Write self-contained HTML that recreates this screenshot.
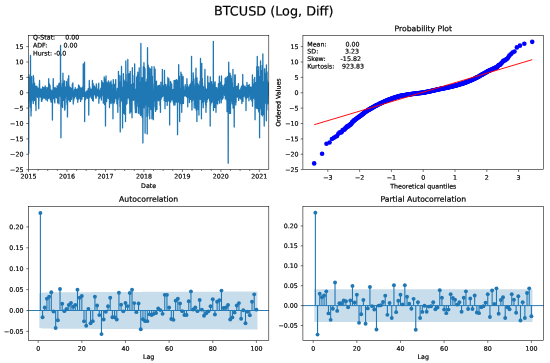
<!DOCTYPE html>
<html><head><meta charset="utf-8"><title>BTCUSD (Log, Diff)</title>
<style>html,body{margin:0;padding:0;background:#fff}svg{display:block}</style></head>
<body>
<svg width="550" height="363" viewBox="0 0 550 363" font-family="'DejaVu Sans','Liberation Sans',sans-serif" fill="#000">
<style>text{stroke:#000;stroke-width:0.2px;text-rendering:geometricPrecision}</style>
<text transform="translate(273.70 15.40) matrix(1 .0005 0 1 0 0)" font-size="12.8" text-anchor="middle">BTCUSD (Log, Diff)</text>
<clipPath id="c1"><rect x="28.5" y="35.3" width="240.3" height="134.39999999999998"/></clipPath>
<polyline clip-path="url(#c1)" points="28.50,92.74 28.61,90.35 28.71,153.34 28.82,99.85 28.92,75.00 29.03,100.60 29.13,92.28 29.24,82.20 29.34,96.61 29.45,97.60 29.55,88.93 29.66,89.98 29.76,91.93 29.87,77.50 29.97,92.98 30.08,87.41 30.19,103.03 30.29,96.24 30.40,107.20 30.50,55.42 30.61,106.66 30.71,94.52 30.82,102.26 30.92,90.72 31.03,116.01 31.13,94.14 31.24,111.26 31.34,96.73 31.45,93.11 31.55,91.92 31.66,76.60 31.77,96.23 31.87,99.85 31.98,98.60 32.08,85.10 32.19,98.55 32.29,92.98 32.40,86.44 32.50,96.90 32.61,93.54 32.71,91.97 32.82,92.30 32.92,101.34 33.03,92.22 33.13,83.29 33.24,103.48 33.34,75.61 33.45,91.93 33.56,77.39 33.66,79.07 33.77,87.55 33.87,100.89 33.98,92.25 34.08,88.86 34.19,94.02 34.29,88.18 34.40,93.19 34.50,88.32 34.61,83.23 34.71,97.21 34.82,91.42 34.92,95.78 35.03,91.92 35.14,100.30 35.24,96.36 35.35,93.95 35.45,87.38 35.56,86.05 35.66,105.14 35.77,97.19 35.87,89.22 35.98,110.50 36.08,95.16 36.19,93.24 36.29,86.54 36.40,89.43 36.50,94.28 36.61,94.43 36.72,93.86 36.82,86.20 36.93,94.54 37.03,93.99 37.14,91.31 37.24,93.24 37.35,93.55 37.45,97.30 37.56,92.80 37.66,94.56 37.77,87.99 37.87,90.09 37.98,92.85 38.08,90.02 38.19,94.14 38.30,88.46 38.40,92.77 38.51,90.37 38.61,98.02 38.72,108.66 38.82,99.64 38.93,101.05 39.03,93.99 39.14,96.42 39.24,92.08 39.35,83.59 39.45,96.14 39.56,80.51 39.66,91.91 39.77,90.74 39.88,93.47 39.98,93.59 40.09,89.88 40.19,90.63 40.30,96.97 40.40,93.07 40.51,92.61 40.61,97.05 40.72,91.69 40.82,96.25 40.93,88.78 41.03,91.96 41.14,92.39 41.24,95.16 41.35,93.23 41.45,100.90 41.56,97.37 41.67,91.27 41.77,101.43 41.88,89.30 41.98,99.87 42.09,89.66 42.19,96.20 42.30,89.57 42.40,92.22 42.51,99.02 42.61,87.65 42.72,86.87 42.82,93.02 42.93,93.87 43.03,93.40 43.14,96.73 43.25,88.27 43.35,94.96 43.46,92.96 43.56,95.99 43.67,95.30 43.77,97.96 43.88,87.62 43.98,93.38 44.09,88.81 44.19,92.70 44.30,95.58 44.40,94.08 44.51,95.04 44.61,92.72 44.72,94.28 44.83,93.97 44.93,98.37 45.04,96.04 45.14,86.00 45.25,95.49 45.35,97.05 45.46,91.37 45.56,87.01 45.67,98.68 45.77,93.60 45.88,95.33 45.98,99.93 46.09,89.75 46.19,92.85 46.30,92.46 46.41,95.82 46.51,90.89 46.62,94.95 46.72,93.33 46.83,97.27 46.93,97.71 47.04,87.30 47.14,94.82 47.25,91.56 47.35,92.89 47.46,100.92 47.56,94.82 47.67,90.18 47.77,93.98 47.88,93.37 47.99,92.66 48.09,87.95 48.20,89.97 48.30,91.19 48.41,95.05 48.51,98.39 48.62,88.88 48.72,78.67 48.83,93.32 48.93,90.54 49.04,89.56 49.14,89.36 49.25,88.99 49.35,94.61 49.46,84.06 49.57,97.84 49.67,89.23 49.78,90.73 49.88,89.19 49.99,85.08 50.09,86.69 50.20,97.42 50.30,99.64 50.41,89.42 50.51,96.89 50.62,92.80 50.72,89.32 50.83,99.46 50.93,101.36 51.04,91.69 51.14,92.57 51.25,102.21 51.36,92.59 51.46,96.26 51.57,98.93 51.67,93.43 51.78,96.71 51.88,99.46 51.99,90.69 52.09,93.00 52.20,91.09 52.30,96.79 52.41,119.98 52.51,96.83 52.62,96.37 52.72,91.95 52.83,95.94 52.94,91.30 53.04,91.36 53.15,84.49 53.25,78.67 53.36,89.13 53.46,93.12 53.57,92.81 53.67,98.67 53.78,94.63 53.88,89.72 53.99,93.09 54.09,92.42 54.20,93.94 54.30,88.04 54.41,92.84 54.52,101.73 54.62,95.57 54.73,100.78 54.83,102.95 54.94,94.91 55.04,87.31 55.15,92.56 55.25,97.53 55.36,96.59 55.46,88.14 55.57,92.11 55.67,92.55 55.78,92.97 55.88,92.59 55.99,89.46 56.10,90.50 56.20,91.87 56.31,97.00 56.41,90.66 56.52,95.54 56.62,88.29 56.73,97.94 56.83,93.31 56.94,92.78 57.04,98.15 57.15,85.72 57.25,86.79 57.36,94.64 57.46,89.60 57.57,91.21 57.68,102.95 57.78,91.73 57.89,93.00 57.99,92.41 58.10,97.36 58.20,93.96 58.31,93.59 58.41,86.90 58.52,91.03 58.62,92.78 58.73,84.24 58.83,95.96 58.94,95.08 59.04,103.87 59.15,83.15 59.25,86.85 59.36,87.14 59.47,88.66 59.57,92.08 59.68,91.43 59.78,94.29 59.89,94.00 59.99,92.42 60.10,83.50 60.20,89.35 60.31,93.11 60.41,96.30 60.52,45.32 60.62,82.94 60.73,89.65 60.83,80.22 60.94,137.73 61.05,99.54 61.15,93.16 61.26,87.40 61.36,95.15 61.47,94.14 61.57,106.01 61.68,92.08 61.78,102.50 61.89,94.19 61.99,97.98 62.10,87.34 62.20,97.47 62.31,89.22 62.41,83.42 62.52,94.67 62.63,107.50 62.73,91.58 62.84,92.76 62.94,73.17 63.05,89.93 63.15,80.42 63.26,94.33 63.36,93.99 63.47,99.14 63.57,90.80 63.68,100.38 63.78,99.52 63.89,84.92 63.99,98.29 64.10,86.13 64.21,83.42 64.31,91.16 64.42,89.36 64.52,80.80 64.63,93.95 64.73,110.13 64.84,101.03 64.94,92.49 65.05,108.66 65.15,86.88 65.26,98.52 65.36,97.98 65.47,95.84 65.57,90.96 65.68,94.01 65.79,91.44 65.89,90.93 66.00,94.58 66.10,93.00 66.21,91.49 66.31,93.26 66.42,89.67 66.52,81.30 66.63,89.13 66.73,92.41 66.84,103.07 66.94,90.38 67.05,104.66 67.15,101.37 67.26,87.52 67.36,88.43 67.47,116.92 67.58,103.22 67.68,95.02 67.79,96.90 67.89,88.85 68.00,78.93 68.10,91.42 68.21,97.52 68.31,99.91 68.42,93.09 68.52,93.83 68.63,99.80 68.73,75.61 68.84,99.79 68.94,85.94 69.05,86.25 69.16,86.11 69.26,95.65 69.37,89.60 69.47,93.56 69.58,95.13 69.68,94.83 69.79,100.70 69.89,101.59 70.00,87.89 70.10,93.87 70.21,91.55 70.31,87.45 70.42,101.43 70.52,96.46 70.63,91.97 70.74,91.12 70.84,94.22 70.95,89.03 71.05,92.02 71.16,96.96 71.26,95.98 71.37,89.96 71.47,91.14 71.58,99.34 71.68,88.08 71.79,90.68 71.89,88.09 72.00,94.08 72.10,93.78 72.21,96.66 72.32,84.08 72.42,93.36 72.53,87.24 72.63,94.99 72.74,92.18 72.84,82.81 72.95,94.08 73.05,89.34 73.16,97.09 73.26,104.07 73.37,91.58 73.47,96.37 73.58,94.49 73.68,100.99 73.79,92.92 73.90,94.61 74.00,95.62 74.11,93.81 74.21,96.31 74.32,97.22 74.42,92.92 74.53,89.69 74.63,98.05 74.74,92.74 74.84,95.00 74.95,96.14 75.05,89.79 75.16,94.55 75.26,87.55 75.37,95.45 75.48,91.41 75.58,93.54 75.69,95.36 75.79,90.71 75.90,93.29 76.00,90.66 76.11,92.91 76.21,96.52 76.32,93.10 76.42,92.57 76.53,89.43 76.63,95.89 76.74,92.89 76.84,98.72 76.95,90.49 77.05,96.50 77.16,99.01 77.27,92.96 77.37,88.92 77.48,98.04 77.58,96.52 77.69,99.97 77.79,102.24 77.90,91.43 78.00,95.55 78.11,95.25 78.21,90.73 78.32,95.37 78.42,91.25 78.53,85.01 78.63,96.95 78.74,99.12 78.85,86.30 78.95,93.86 79.06,91.90 79.16,92.86 79.27,92.20 79.37,92.58 79.48,86.13 79.58,96.35 79.69,98.15 79.79,96.26 79.90,97.38 80.00,90.16 80.11,89.90 80.21,96.08 80.32,97.57 80.43,93.98 80.53,87.93 80.64,101.42 80.74,90.92 80.85,96.48 80.95,89.14 81.06,96.49 81.16,93.74 81.27,97.97 81.37,96.14 81.48,87.94 81.58,89.90 81.69,94.14 81.79,95.77 81.90,99.32 82.01,94.12 82.11,92.86 82.22,93.04 82.32,93.08 82.43,96.64 82.53,92.98 82.64,92.88 82.74,88.27 82.85,86.28 82.95,93.23 83.06,95.41 83.16,92.98 83.27,63.99 83.37,95.32 83.48,92.95 83.59,96.37 83.69,90.65 83.80,93.11 83.90,91.88 84.01,93.38 84.11,95.27 84.22,96.04 84.32,93.57 84.43,94.65 84.53,62.15 84.64,121.51 84.74,97.47 84.85,92.52 84.95,97.41 85.06,94.89 85.16,93.77 85.27,99.95 85.38,92.43 85.48,92.23 85.59,93.30 85.69,94.22 85.80,94.05 85.90,96.14 86.01,93.69 86.11,94.67 86.22,92.43 86.32,96.93 86.43,91.93 86.53,92.25 86.64,93.24 86.74,94.27 86.85,90.83 86.96,98.52 87.06,91.15 87.17,91.91 87.27,91.77 87.38,91.42 87.48,95.02 87.59,93.65 87.69,90.54 87.80,91.26 87.90,92.03 88.01,98.00 88.11,90.88 88.22,88.69 88.32,89.25 88.43,91.94 88.54,98.15 88.64,89.48 88.75,115.09 88.85,101.42 88.96,91.44 89.06,97.92 89.17,97.25 89.27,80.51 89.38,88.34 89.48,94.04 89.59,91.81 89.69,86.69 89.80,87.22 89.90,93.11 90.01,93.59 90.12,97.12 90.22,95.16 90.33,91.27 90.43,91.38 90.54,92.37 90.64,89.30 90.75,95.43 90.85,92.94 90.96,90.21 91.06,90.72 91.17,89.04 91.27,91.37 91.38,93.82 91.48,91.49 91.59,96.23 91.70,98.44 91.80,90.74 91.91,92.94 92.01,91.68 92.12,98.64 92.22,94.02 92.33,94.83 92.43,80.51 92.54,100.57 92.64,93.91 92.75,89.64 92.85,91.43 92.96,94.83 93.06,92.80 93.17,83.53 93.27,101.00 93.38,93.18 93.49,90.87 93.59,90.38 93.70,86.85 93.80,88.81 93.91,91.67 94.01,91.70 94.12,90.02 94.22,94.62 94.33,92.89 94.43,89.61 94.54,85.96 94.64,93.30 94.75,92.92 94.85,92.06 94.96,88.09 95.07,92.86 95.17,87.65 95.28,96.10 95.38,93.40 95.49,93.44 95.59,90.02 95.70,89.13 95.80,97.98 95.91,95.92 96.01,91.58 96.12,95.03 96.22,98.03 96.33,83.91 96.43,91.04 96.54,91.04 96.65,94.40 96.75,89.18 96.86,93.58 96.96,88.95 97.07,95.91 97.17,95.71 97.28,92.04 97.38,95.19 97.49,90.41 97.59,91.85 97.70,95.95 97.80,92.50 97.91,93.97 98.01,89.57 98.12,94.94 98.23,94.27 98.33,88.55 98.44,84.99 98.54,85.82 98.65,92.53 98.75,83.26 98.86,103.15 98.96,93.18 99.07,96.14 99.17,92.34 99.28,91.18 99.38,95.63 99.49,98.46 99.59,97.73 99.70,90.44 99.81,95.38 99.91,93.24 100.02,92.01 100.12,90.54 100.23,93.97 100.33,90.89 100.44,96.15 100.54,94.16 100.65,96.84 100.75,88.13 100.86,92.86 100.96,95.90 101.07,94.28 101.17,93.73 101.28,89.59 101.38,100.09 101.49,97.61 101.60,94.55 101.70,80.61 101.81,88.03 101.91,93.31 102.02,89.12 102.12,82.25 102.23,93.94 102.33,94.62 102.44,86.56 102.54,90.23 102.65,89.32 102.75,95.35 102.86,82.92 102.96,84.01 103.07,89.86 103.18,89.25 103.28,103.12 103.39,89.49 103.49,93.74 103.60,90.53 103.70,89.25 103.81,94.50 103.91,101.41 104.02,90.86 104.12,96.55 104.23,76.84 104.33,95.85 104.44,94.50 104.54,104.60 104.65,86.50 104.76,91.45 104.86,87.04 104.97,82.58 105.07,79.17 105.18,102.02 105.28,97.35 105.39,98.96 105.49,126.10 105.60,92.34 105.70,103.06 105.81,90.99 105.91,100.53 106.02,75.92 106.12,93.31 106.23,94.37 106.34,93.13 106.44,95.53 106.55,95.91 106.65,101.43 106.76,92.90 106.86,83.22 106.97,82.52 107.07,85.92 107.18,89.10 107.28,96.25 107.39,85.29 107.49,93.04 107.60,93.11 107.70,94.26 107.81,92.27 107.92,95.00 108.02,93.18 108.13,98.37 108.23,94.69 108.34,80.93 108.44,93.11 108.55,93.99 108.65,89.99 108.76,89.08 108.86,98.53 108.97,93.82 109.07,87.98 109.18,91.35 109.28,92.12 109.39,84.68 109.50,107.57 109.60,92.32 109.71,95.45 109.81,82.14 109.92,102.90 110.02,96.24 110.13,95.50 110.23,89.30 110.34,89.59 110.44,85.48 110.55,100.95 110.65,88.84 110.76,94.28 110.86,96.22 110.97,89.94 111.07,80.95 111.18,103.59 111.29,94.68 111.39,100.57 111.50,96.14 111.60,90.81 111.71,91.12 111.81,84.46 111.92,93.79 112.02,100.77 112.13,96.70 112.23,97.56 112.34,99.12 112.44,90.47 112.55,96.13 112.65,103.10 112.76,89.10 112.87,93.33 112.97,118.76 113.08,92.20 113.18,89.44 113.29,79.59 113.39,86.27 113.50,90.52 113.60,90.69 113.71,90.60 113.81,100.40 113.92,93.61 114.02,103.18 114.13,91.66 114.23,99.89 114.34,84.16 114.45,92.20 114.55,99.12 114.66,101.74 114.76,94.23 114.87,93.22 114.97,96.53 115.08,92.26 115.18,96.13 115.29,89.84 115.39,96.57 115.50,92.95 115.60,87.59 115.71,79.56 115.81,98.07 115.92,95.20 116.03,97.18 116.13,88.61 116.24,98.81 116.34,95.31 116.45,92.91 116.55,97.92 116.66,97.81 116.76,95.27 116.87,103.86 116.97,100.40 117.08,94.94 117.18,91.97 117.29,93.73 117.39,102.15 117.50,95.21 117.61,88.52 117.71,89.80 117.82,112.33 117.92,97.46 118.03,89.38 118.13,95.93 118.24,99.35 118.34,97.40 118.45,71.33 118.55,91.41 118.66,85.51 118.76,95.82 118.87,86.61 118.97,96.78 119.08,93.83 119.18,75.36 119.29,87.27 119.40,96.41 119.50,93.38 119.61,90.27 119.71,83.37 119.82,96.61 119.92,106.77 120.03,95.03 120.13,92.62 120.24,131.92 120.34,81.99 120.45,90.16 120.55,86.10 120.66,101.75 120.76,85.65 120.87,75.60 120.98,86.42 121.08,90.67 121.19,91.49 121.29,78.10 121.40,100.35 121.50,66.43 121.61,88.97 121.71,86.64 121.82,96.34 121.92,90.23 122.03,95.03 122.13,91.76 122.24,93.84 122.34,102.14 122.45,92.92 122.56,127.94 122.66,100.71 122.77,94.74 122.87,87.27 122.98,101.57 123.08,91.24 123.19,101.49 123.29,83.39 123.40,73.66 123.50,113.36 123.61,94.56 123.71,86.64 123.82,91.75 123.92,91.91 124.03,79.95 124.14,103.66 124.24,84.02 124.35,93.16 124.45,81.09 124.56,91.20 124.66,98.32 124.77,114.27 124.87,86.65 124.98,92.45 125.08,88.70 125.19,97.08 125.29,110.47 125.40,85.27 125.50,121.51 125.61,91.52 125.72,92.18 125.82,60.93 125.93,96.55 126.03,98.63 126.14,74.29 126.24,82.85 126.35,104.31 126.45,82.82 126.56,98.08 126.66,101.93 126.77,82.24 126.87,93.56 126.98,103.61 127.08,95.75 127.19,84.97 127.29,82.79 127.40,96.32 127.51,89.35 127.61,86.78 127.72,98.15 127.82,59.40 127.93,93.02 128.03,97.24 128.14,96.87 128.24,92.19 128.35,75.91 128.45,97.49 128.56,96.32 128.66,83.40 128.77,90.95 128.87,85.31 128.98,82.65 129.09,87.80 129.19,73.65 129.30,99.69 129.40,85.95 129.51,95.43 129.61,103.15 129.72,78.42 129.82,113.29 129.93,100.92 130.03,87.15 130.14,86.09 130.24,71.33 130.35,93.35 130.45,88.91 130.56,87.23 130.67,93.41 130.77,84.07 130.88,111.86 130.98,87.39 131.09,101.50 131.19,84.64 131.30,94.69 131.40,100.28 131.51,89.58 131.61,100.47 131.72,100.49 131.82,106.04 131.93,92.98 132.03,117.84 132.14,84.06 132.25,93.95 132.35,67.66 132.46,92.60 132.56,93.54 132.67,87.87 132.77,83.75 132.88,95.66 132.98,94.83 133.09,94.12 133.19,92.04 133.30,100.42 133.40,83.99 133.51,96.16 133.61,88.81 133.72,99.79 133.83,89.69 133.93,89.41 134.04,96.34 134.14,75.48 134.25,89.58 134.35,77.56 134.46,84.55 134.56,98.42 134.67,63.99 134.77,89.02 134.88,92.23 134.98,104.99 135.09,95.22 135.19,108.53 135.30,94.74 135.40,112.49 135.51,89.41 135.62,99.34 135.72,99.30 135.83,94.78 135.93,90.21 136.04,106.23 136.14,109.36 136.25,102.97 136.35,112.50 136.46,102.18 136.56,77.09 136.67,103.24 136.77,86.23 136.88,106.61 136.98,89.70 137.09,96.01 137.20,93.36 137.30,86.95 137.41,74.84 137.51,90.76 137.62,91.48 137.72,102.68 137.83,72.25 137.93,95.26 138.04,84.26 138.14,93.20 138.25,74.99 138.35,112.98 138.46,95.78 138.56,83.76 138.67,113.25 138.78,100.83 138.88,95.46 138.99,106.83 139.09,91.54 139.20,67.86 139.30,81.07 139.41,104.06 139.51,101.66 139.62,96.88 139.72,82.50 139.83,101.13 139.93,99.79 140.04,83.73 140.14,114.44 140.25,96.56 140.36,104.15 140.46,108.56 140.57,99.88 140.67,115.50 140.78,85.10 140.88,43.48 140.99,87.84 141.09,114.72 141.20,80.79 141.30,104.49 141.41,83.88 141.51,80.94 141.62,100.36 141.72,102.47 141.83,93.87 141.94,109.08 142.04,77.75 142.15,117.28 142.25,104.04 142.36,95.50 142.46,116.72 142.57,91.06 142.67,89.98 142.78,94.93 142.88,142.93 142.99,114.57 143.09,92.75 143.20,100.04 143.30,66.74 143.41,90.50 143.52,102.05 143.62,99.29 143.73,84.67 143.83,89.19 143.94,62.74 144.04,71.94 144.15,69.20 144.25,107.67 144.36,89.67 144.46,67.25 144.57,84.75 144.67,90.50 144.78,94.87 144.88,98.27 144.99,68.58 145.09,133.14 145.20,85.15 145.31,96.81 145.41,97.25 145.52,105.01 145.62,93.26 145.73,101.87 145.83,94.59 145.94,82.12 146.04,89.02 146.15,87.60 146.25,89.12 146.36,92.15 146.46,94.05 146.57,95.89 146.67,85.01 146.78,116.50 146.89,79.07 146.99,92.40 147.10,100.39 147.20,134.06 147.31,99.66 147.41,91.12 147.52,47.77 147.62,81.10 147.73,100.72 147.83,115.93 147.94,100.21 148.04,113.24 148.15,93.16 148.25,65.26 148.36,86.14 148.47,106.39 148.57,100.53 148.68,74.61 148.78,89.50 148.89,92.71 148.99,81.98 149.10,67.73 149.20,79.52 149.31,91.33 149.41,89.13 149.52,86.46 149.62,73.17 149.73,118.76 149.83,92.22 149.94,102.41 150.05,93.38 150.15,91.77 150.26,68.87 150.36,101.43 150.47,93.99 150.57,94.43 150.68,88.29 150.78,82.07 150.89,97.75 150.99,101.13 151.10,109.49 151.20,102.20 151.31,87.28 151.41,92.28 151.52,103.11 151.63,68.87 151.73,92.43 151.84,66.74 151.94,118.76 152.05,95.30 152.15,111.30 152.26,104.49 152.36,76.25 152.47,115.07 152.57,96.20 152.68,90.51 152.78,96.57 152.89,100.99 152.99,93.37 153.10,92.80 153.20,93.59 153.31,119.68 153.42,94.25 153.52,101.47 153.63,98.34 153.73,90.43 153.84,86.21 153.94,83.60 154.05,97.81 154.15,66.74 154.26,80.78 154.36,81.16 154.47,78.57 154.57,94.24 154.68,94.53 154.78,84.33 154.89,106.69 155.00,90.61 155.10,69.11 155.21,96.33 155.31,109.19 155.42,100.92 155.52,111.46 155.63,85.05 155.73,84.43 155.84,93.40 155.94,109.67 156.05,99.09 156.15,89.78 156.26,94.51 156.36,88.59 156.47,81.19 156.58,92.96 156.68,101.86 156.79,97.77 156.89,109.58 157.00,99.11 157.10,85.83 157.21,91.55 157.31,100.80 157.42,89.29 157.52,86.08 157.63,94.65 157.73,96.32 157.84,94.53 157.94,91.25 158.05,89.37 158.16,86.51 158.26,86.35 158.37,86.50 158.47,85.57 158.58,89.26 158.68,100.81 158.79,93.44 158.89,91.10 159.00,94.77 159.10,87.96 159.21,94.64 159.31,97.61 159.42,85.16 159.52,89.25 159.63,91.60 159.74,87.89 159.84,87.18 159.95,90.96 160.05,105.62 160.16,96.29 160.26,95.14 160.37,97.90 160.47,112.33 160.58,86.52 160.68,95.28 160.79,98.68 160.89,82.16 161.00,95.11 161.10,99.18 161.21,91.51 161.31,90.53 161.42,96.42 161.53,88.63 161.63,95.29 161.74,97.55 161.84,91.82 161.95,88.74 162.05,96.04 162.16,91.03 162.26,93.24 162.37,69.49 162.47,96.42 162.58,85.57 162.68,93.02 162.79,93.41 162.89,89.01 163.00,88.12 163.11,86.20 163.21,91.05 163.32,95.85 163.42,95.53 163.53,90.12 163.63,89.75 163.74,85.54 163.84,90.59 163.95,87.29 164.05,84.93 164.16,91.90 164.26,100.40 164.37,98.82 164.47,70.41 164.58,84.57 164.69,97.10 164.79,86.42 164.90,89.74 165.00,108.66 165.11,87.60 165.21,93.27 165.32,93.78 165.42,92.31 165.53,91.85 165.63,95.47 165.74,92.92 165.84,84.52 165.95,101.45 166.05,91.43 166.16,97.38 166.27,91.80 166.37,88.46 166.48,93.04 166.58,88.81 166.69,100.85 166.79,87.11 166.90,95.82 167.00,89.58 167.11,91.82 167.21,105.46 167.32,96.59 167.42,91.63 167.53,84.86 167.63,91.29 167.74,91.44 167.85,77.45 167.95,85.50 168.06,83.59 168.16,92.61 168.27,93.86 168.37,100.94 168.48,88.28 168.58,80.11 168.69,89.13 168.79,86.37 168.90,78.82 169.00,97.72 169.11,86.01 169.21,98.97 169.32,93.81 169.43,91.35 169.53,88.30 169.64,124.88 169.74,90.80 169.85,96.58 169.95,99.23 170.06,92.44 170.16,96.32 170.27,99.31 170.37,99.10 170.48,81.43 170.58,102.04 170.69,99.50 170.79,100.94 170.90,91.84 171.00,90.71 171.11,82.71 171.22,100.24 171.32,96.15 171.43,88.19 171.53,93.83 171.64,94.38 171.74,84.23 171.85,94.44 171.95,98.51 172.06,99.31 172.16,91.08 172.27,91.23 172.37,99.57 172.48,97.65 172.58,90.09 172.69,89.88 172.80,95.94 172.90,89.66 173.01,89.91 173.11,101.59 173.22,94.30 173.32,90.69 173.43,95.59 173.53,103.34 173.64,94.15 173.74,89.03 173.85,104.99 173.95,103.57 174.06,80.41 174.16,98.31 174.27,88.03 174.38,86.66 174.48,87.91 174.59,92.01 174.69,98.47 174.80,89.67 174.90,96.27 175.01,105.04 175.11,80.46 175.22,89.27 175.32,83.82 175.43,97.22 175.53,85.55 175.64,84.95 175.74,85.13 175.85,92.85 175.96,98.64 176.06,93.64 176.17,80.02 176.27,102.21 176.38,92.22 176.48,98.77 176.59,93.79 176.69,93.47 176.80,79.53 176.90,83.53 177.01,93.08 177.11,83.87 177.22,98.48 177.32,95.22 177.43,86.07 177.54,134.67 177.64,94.80 177.75,102.45 177.85,91.89 177.96,80.76 178.06,98.27 178.17,91.09 178.27,99.34 178.38,101.19 178.48,101.83 178.59,82.07 178.69,64.60 178.80,89.20 178.90,98.01 179.01,87.57 179.11,95.21 179.22,86.86 179.33,76.23 179.43,90.70 179.54,88.29 179.64,121.51 179.75,95.72 179.85,105.39 179.96,96.00 180.06,103.20 180.17,93.81 180.27,99.78 180.38,92.01 180.48,89.42 180.59,103.18 180.69,98.72 180.80,99.68 180.91,72.25 181.01,80.22 181.12,86.50 181.22,95.32 181.33,81.99 181.43,103.87 181.54,81.74 181.64,97.57 181.75,112.33 181.85,74.39 181.96,81.16 182.06,100.33 182.17,91.51 182.27,94.33 182.38,92.00 182.49,103.64 182.59,97.75 182.70,89.31 182.80,91.11 182.91,83.94 183.01,92.17 183.12,76.62 183.22,97.36 183.33,91.19 183.43,103.44 183.54,99.20 183.64,86.48 183.75,96.79 183.85,90.70 183.96,92.96 184.07,96.16 184.17,93.89 184.28,94.43 184.38,94.34 184.49,90.29 184.59,90.62 184.70,94.63 184.80,95.71 184.91,91.83 185.01,93.08 185.12,89.39 185.22,84.59 185.33,90.00 185.43,92.86 185.54,93.31 185.65,95.55 185.75,95.71 185.86,96.03 185.96,94.04 186.07,94.14 186.17,90.32 186.28,94.05 186.38,93.39 186.49,96.73 186.59,87.38 186.70,91.10 186.80,86.91 186.91,78.67 187.01,87.89 187.12,93.56 187.22,90.41 187.33,84.59 187.44,96.74 187.54,88.91 187.65,87.21 187.75,106.83 187.86,90.25 187.96,88.57 188.07,94.94 188.17,91.39 188.28,95.65 188.38,95.01 188.49,94.81 188.59,93.23 188.70,92.26 188.80,91.24 188.91,97.49 189.02,86.13 189.12,88.89 189.23,90.32 189.33,93.95 189.44,102.50 189.54,90.92 189.65,91.37 189.75,98.37 189.86,90.27 189.96,84.59 190.07,99.41 190.17,88.77 190.28,91.13 190.38,93.29 190.49,85.63 190.60,99.36 190.70,91.77 190.81,83.40 190.91,94.09 191.02,95.73 191.12,91.93 191.23,95.92 191.33,81.73 191.44,99.21 191.54,56.34 191.65,101.67 191.75,87.98 191.86,93.50 191.96,110.09 192.07,92.79 192.18,100.36 192.28,95.92 192.39,81.78 192.49,100.72 192.60,100.31 192.70,82.48 192.81,91.92 192.91,81.76 193.02,90.44 193.12,99.04 193.23,72.83 193.33,83.98 193.44,86.04 193.54,92.74 193.65,92.40 193.76,93.55 193.86,96.87 193.97,78.98 194.07,92.70 194.18,108.05 194.28,96.15 194.39,87.57 194.49,88.18 194.60,93.73 194.70,97.52 194.81,92.58 194.91,104.68 195.02,102.03 195.12,87.05 195.23,96.17 195.33,90.08 195.44,84.06 195.55,88.12 195.65,108.20 195.76,76.06 195.86,87.99 195.97,68.27 196.07,87.53 196.18,89.84 196.28,110.40 196.39,92.23 196.49,93.93 196.60,106.77 196.70,93.98 196.81,94.77 196.91,121.51 197.02,78.01 197.13,95.28 197.23,93.03 197.34,92.02 197.44,100.85 197.55,88.24 197.65,101.42 197.76,94.35 197.86,83.44 197.97,97.69 198.07,96.39 198.18,85.10 198.28,109.39 198.39,94.87 198.49,91.17 198.60,85.27 198.71,108.46 198.81,98.65 198.92,115.09 199.02,100.48 199.13,98.84 199.23,98.73 199.34,90.61 199.44,99.08 199.55,91.88 199.65,89.90 199.76,97.94 199.86,91.82 199.97,81.11 200.07,90.46 200.18,97.28 200.29,93.21 200.39,99.26 200.50,58.48 200.60,86.63 200.71,98.56 200.81,94.23 200.92,84.86 201.02,96.28 201.13,91.42 201.23,100.01 201.34,98.55 201.44,118.76 201.55,77.66 201.65,95.59 201.76,63.37 201.87,96.66 201.97,93.90 202.08,88.20 202.18,91.44 202.29,78.48 202.39,91.27 202.50,82.71 202.60,90.83 202.71,88.55 202.81,102.76 202.92,93.63 203.02,93.23 203.13,94.44 203.23,107.68 203.34,86.64 203.45,95.44 203.55,95.79 203.66,94.52 203.76,94.33 203.87,89.93 203.97,101.57 204.08,99.21 204.18,90.73 204.29,91.74 204.39,95.36 204.50,96.73 204.60,98.54 204.71,93.15 204.81,84.56 204.92,69.49 205.02,82.18 205.13,86.90 205.24,95.89 205.34,87.32 205.45,102.92 205.55,104.76 205.66,101.70 205.76,95.59 205.87,95.01 205.97,112.33 206.08,92.06 206.18,107.56 206.29,89.31 206.39,102.59 206.50,97.33 206.60,95.61 206.71,100.77 206.82,102.26 206.92,99.73 207.03,92.83 207.13,88.66 207.24,88.84 207.34,99.65 207.45,98.24 207.55,99.14 207.66,89.63 207.76,76.23 207.87,84.16 207.97,96.11 208.08,98.18 208.18,90.40 208.29,85.59 208.40,90.37 208.50,85.45 208.61,91.82 208.71,84.22 208.82,84.11 208.92,93.44 209.03,82.81 209.13,91.63 209.24,92.17 209.34,98.82 209.45,94.62 209.55,87.80 209.66,100.97 209.76,88.75 209.87,90.64 209.98,91.10 210.08,105.87 210.19,126.10 210.29,77.01 210.40,96.96 210.50,92.26 210.61,105.35 210.71,89.27 210.82,96.12 210.92,88.42 211.03,101.77 211.13,89.36 211.24,93.91 211.34,88.80 211.45,97.28 211.56,95.78 211.66,81.77 211.77,102.78 211.87,96.21 211.98,94.10 212.08,97.76 212.19,86.92 212.29,84.30 212.40,96.20 212.50,101.20 212.61,87.01 212.71,87.32 212.82,88.73 212.92,87.09 213.03,97.00 213.13,93.57 213.24,99.53 213.35,41.34 213.45,110.50 213.56,96.04 213.66,81.59 213.77,92.39 213.87,95.89 213.98,88.84 214.08,83.93 214.19,90.37 214.29,98.71 214.40,90.93 214.50,86.02 214.61,95.16 214.71,107.39 214.82,87.77 214.93,92.06 215.03,98.15 215.14,81.99 215.24,96.45 215.35,91.30 215.45,92.21 215.56,87.12 215.66,89.28 215.77,100.41 215.87,90.76 215.98,112.33 216.08,104.00 216.19,87.71 216.29,95.44 216.40,97.41 216.51,88.20 216.61,97.97 216.72,103.32 216.82,87.73 216.93,96.30 217.03,94.25 217.14,99.59 217.24,99.24 217.35,98.41 217.45,94.52 217.56,90.94 217.66,104.00 217.77,89.07 217.87,98.54 217.98,97.97 218.09,89.43 218.19,93.12 218.30,100.27 218.40,83.72 218.51,96.96 218.61,91.54 218.72,91.77 218.82,85.84 218.93,94.98 219.03,87.81 219.14,96.38 219.24,87.26 219.35,76.23 219.45,94.52 219.56,103.15 219.67,91.20 219.77,92.21 219.88,81.77 219.98,90.98 220.09,96.75 220.19,89.15 220.30,98.54 220.40,87.23 220.51,86.85 220.61,95.56 220.72,82.81 220.82,91.89 220.93,92.68 221.03,97.54 221.14,89.97 221.24,102.75 221.35,94.87 221.46,75.92 221.56,94.09 221.67,91.25 221.77,98.76 221.88,89.87 221.98,93.63 222.09,95.93 222.19,99.44 222.30,98.54 222.40,90.99 222.51,97.47 222.61,92.44 222.72,87.55 222.82,87.69 222.93,85.11 223.04,94.20 223.14,98.06 223.25,87.75 223.35,91.23 223.46,87.25 223.56,92.70 223.67,86.90 223.77,88.61 223.88,89.24 223.98,90.28 224.09,90.80 224.19,91.61 224.30,91.64 224.40,87.90 224.51,95.26 224.62,84.25 224.72,93.27 224.83,87.93 224.93,93.19 225.04,93.96 225.14,78.51 225.25,94.26 225.35,99.00 225.46,96.25 225.56,94.30 225.67,82.20 225.77,91.74 225.88,88.17 225.98,97.65 226.09,90.92 226.20,77.15 226.30,82.16 226.41,97.08 226.51,88.79 226.62,90.66 226.72,100.16 226.83,92.90 226.93,94.84 227.04,111.72 227.14,87.87 227.25,88.35 227.35,96.32 227.46,103.64 227.56,80.71 227.67,76.32 227.78,84.49 227.88,81.30 227.99,96.98 228.09,86.16 228.20,163.13 228.30,93.26 228.41,93.44 228.51,92.76 228.62,83.74 228.72,62.15 228.83,93.99 228.93,94.98 229.04,90.00 229.14,99.97 229.25,111.77 229.36,93.17 229.46,97.30 229.57,113.25 229.67,97.66 229.78,76.65 229.88,82.08 229.99,73.17 230.09,93.18 230.20,75.19 230.30,90.16 230.41,93.45 230.51,113.44 230.62,90.30 230.72,81.48 230.83,92.90 230.93,75.99 231.04,99.79 231.15,87.22 231.25,100.73 231.36,78.28 231.46,95.38 231.57,93.21 231.67,85.40 231.78,82.78 231.88,101.58 231.99,95.50 232.09,103.81 232.20,91.66 232.30,93.55 232.41,95.51 232.51,98.16 232.62,95.80 232.73,98.65 232.83,88.57 232.94,69.49 233.04,107.98 233.15,93.66 233.25,96.04 233.36,88.87 233.46,100.24 233.57,93.90 233.67,100.92 233.78,87.28 233.88,91.97 233.99,94.02 234.09,89.85 234.20,127.02 234.31,104.91 234.41,88.09 234.52,90.50 234.62,93.95 234.73,75.00 234.83,83.24 234.94,101.27 235.04,98.84 235.15,80.70 235.25,74.82 235.36,98.50 235.46,101.93 235.57,97.70 235.67,96.62 235.78,105.05 235.89,92.51 235.99,102.67 236.10,101.66 236.20,86.40 236.31,97.19 236.41,93.18 236.52,89.20 236.62,88.51 236.73,94.36 236.83,92.56 236.94,95.99 237.04,86.33 237.15,90.36 237.25,96.80 237.36,92.74 237.47,90.13 237.57,90.99 237.68,86.03 237.78,87.71 237.89,94.73 237.99,93.08 238.10,97.46 238.20,91.83 238.31,92.20 238.41,83.57 238.52,92.39 238.62,100.44 238.73,95.22 238.83,92.34 238.94,97.36 239.04,95.93 239.15,94.09 239.26,91.49 239.36,93.36 239.47,96.02 239.57,89.86 239.68,94.73 239.78,94.58 239.89,97.82 239.99,95.64 240.10,90.36 240.20,98.69 240.31,93.01 240.41,90.11 240.52,94.13 240.62,91.87 240.73,96.85 240.84,87.94 240.94,88.71 241.05,91.89 241.15,99.19 241.26,96.59 241.36,89.16 241.47,86.46 241.57,91.66 241.68,88.17 241.78,94.98 241.89,103.60 241.99,92.75 242.10,91.20 242.20,98.36 242.31,89.30 242.42,84.75 242.52,96.97 242.63,97.73 242.73,74.39 242.84,95.15 242.94,101.46 243.05,89.78 243.15,92.18 243.26,94.50 243.36,84.99 243.47,92.24 243.57,95.52 243.68,92.38 243.78,96.57 243.89,95.55 244.00,91.33 244.10,94.79 244.21,94.41 244.31,86.62 244.42,89.59 244.52,89.80 244.63,90.81 244.73,90.97 244.84,87.40 244.94,92.82 245.05,85.94 245.15,96.24 245.26,93.69 245.36,97.81 245.47,94.01 245.58,90.85 245.68,87.42 245.79,95.19 245.89,92.73 246.00,110.50 246.10,95.46 246.21,97.12 246.31,92.53 246.42,99.11 246.52,92.34 246.63,92.67 246.73,95.17 246.84,96.46 246.94,82.43 247.05,85.88 247.15,97.68 247.26,87.03 247.37,90.55 247.47,94.09 247.58,97.00 247.68,88.92 247.79,86.40 247.89,96.18 248.00,93.85 248.10,88.89 248.21,91.52 248.31,85.41 248.42,94.84 248.52,90.76 248.63,97.34 248.73,85.05 248.84,95.43 248.95,100.86 249.05,93.21 249.16,93.26 249.26,84.56 249.37,93.99 249.47,92.80 249.58,90.57 249.68,86.93 249.79,92.98 249.89,88.93 250.00,90.85 250.10,93.89 250.21,92.44 250.31,92.63 250.42,96.74 250.53,87.25 250.63,99.26 250.74,87.04 250.84,87.93 250.95,93.24 251.05,96.81 251.16,93.95 251.26,90.23 251.37,88.79 251.47,91.22 251.58,87.44 251.68,95.74 251.79,91.49 251.89,101.18 252.00,88.64 252.11,91.92 252.21,95.00 252.32,86.46 252.42,75.00 252.53,106.32 252.63,92.53 252.74,100.67 252.84,86.93 252.95,79.15 253.05,95.59 253.16,92.34 253.26,94.13 253.37,90.82 253.47,89.20 253.58,85.65 253.69,98.20 253.79,84.06 253.90,97.91 254.00,91.21 254.11,86.31 254.21,88.78 254.32,97.98 254.42,96.67 254.53,95.34 254.63,93.04 254.74,77.45 254.84,100.01 254.95,90.12 255.05,119.68 255.16,89.60 255.26,90.11 255.37,84.16 255.48,89.98 255.58,87.88 255.69,89.55 255.79,82.54 255.90,103.59 256.00,85.41 256.11,94.40 256.21,94.69 256.32,100.05 256.42,107.95 256.53,96.09 256.63,99.17 256.74,66.60 256.84,108.26 256.95,76.80 257.06,89.64 257.16,95.58 257.27,56.34 257.37,101.74 257.48,105.66 257.58,98.97 257.69,92.68 257.79,94.78 257.90,108.91 258.00,95.79 258.11,102.95 258.21,90.92 258.32,71.45 258.42,85.61 258.53,96.33 258.64,111.31 258.74,66.74 258.85,112.02 258.95,84.46 259.06,101.49 259.16,92.03 259.27,99.86 259.37,91.71 259.48,76.74 259.58,137.73 259.69,96.65 259.79,101.96 259.90,82.76 260.00,104.47 260.11,105.69 260.22,108.60 260.32,108.84 260.43,87.37 260.53,60.93 260.64,104.12 260.74,81.88 260.85,89.88 260.95,105.34 261.06,95.91 261.16,95.41 261.27,100.64 261.37,70.69 261.48,114.53 261.58,88.40 261.69,88.96 261.80,99.37 261.90,91.04 262.01,82.72 262.11,91.01 262.22,65.34 262.32,84.83 262.43,115.96 262.53,75.86 262.64,66.72 262.74,81.55 262.85,53.89 262.95,108.84 263.06,94.10 263.16,102.03 263.27,99.46 263.38,81.70 263.48,101.93 263.59,94.24 263.69,114.55 263.80,94.56 263.90,91.72 264.01,100.80 264.11,100.97 264.22,126.10 264.32,106.57 264.43,104.75 264.53,69.49 264.64,79.05 264.74,68.74 264.85,88.96 264.95,100.94 265.06,97.64 265.17,80.59 265.27,103.16 265.38,76.15 265.48,76.57 265.59,91.95 265.69,85.37 265.80,84.18 265.90,74.99 266.01,73.17 266.11,79.36 266.22,96.98 266.32,120.73 266.43,65.01 266.53,95.11 266.64,103.56 266.75,110.11 266.85,108.66 266.96,77.20 267.06,71.89 267.17,85.89 267.27,80.33 267.38,98.12 267.48,81.43 267.59,89.86 267.69,103.73 267.80,102.73 267.90,91.78 268.01,95.93 268.11,103.22 268.22,88.98 268.33,95.30 268.43,82.94 268.54,92.80 268.64,95.59 268.75,91.55" fill="none" stroke="#1f77b4" stroke-width="1.3" stroke-linejoin="round"/>
<rect x="28.50" y="35.30" width="240.30" height="134.40" fill="none" stroke="#000" stroke-width="0.55"/>
<line x1="26.30" y1="169.62" x2="28.50" y2="169.62" stroke="#000" stroke-width="0.55"/>
<text transform="translate(23.40 171.89) matrix(1 .0005 0 1 0 0)" font-size="6.3" text-anchor="end">−25</text>
<line x1="26.30" y1="154.25" x2="28.50" y2="154.25" stroke="#000" stroke-width="0.55"/>
<text transform="translate(23.40 156.52) matrix(1 .0005 0 1 0 0)" font-size="6.3" text-anchor="end">−20</text>
<line x1="26.30" y1="138.88" x2="28.50" y2="138.88" stroke="#000" stroke-width="0.55"/>
<text transform="translate(23.40 141.14) matrix(1 .0005 0 1 0 0)" font-size="6.3" text-anchor="end">−15</text>
<line x1="26.30" y1="123.50" x2="28.50" y2="123.50" stroke="#000" stroke-width="0.55"/>
<text transform="translate(23.40 125.77) matrix(1 .0005 0 1 0 0)" font-size="6.3" text-anchor="end">−10</text>
<line x1="26.30" y1="108.12" x2="28.50" y2="108.12" stroke="#000" stroke-width="0.55"/>
<text transform="translate(23.40 110.39) matrix(1 .0005 0 1 0 0)" font-size="6.3" text-anchor="end">−5</text>
<line x1="26.30" y1="92.75" x2="28.50" y2="92.75" stroke="#000" stroke-width="0.55"/>
<text transform="translate(23.40 95.02) matrix(1 .0005 0 1 0 0)" font-size="6.3" text-anchor="end">0</text>
<line x1="26.30" y1="77.38" x2="28.50" y2="77.38" stroke="#000" stroke-width="0.55"/>
<text transform="translate(23.40 79.64) matrix(1 .0005 0 1 0 0)" font-size="6.3" text-anchor="end">5</text>
<line x1="26.30" y1="62.00" x2="28.50" y2="62.00" stroke="#000" stroke-width="0.55"/>
<text transform="translate(23.40 64.27) matrix(1 .0005 0 1 0 0)" font-size="6.3" text-anchor="end">10</text>
<line x1="26.30" y1="46.62" x2="28.50" y2="46.62" stroke="#000" stroke-width="0.55"/>
<text transform="translate(23.40 48.89) matrix(1 .0005 0 1 0 0)" font-size="6.3" text-anchor="end">15</text>
<line x1="28.50" y1="169.70" x2="28.50" y2="171.90" stroke="#000" stroke-width="0.55"/>
<text transform="translate(28.50 178.39) matrix(1 .0005 0 1 0 0)" font-size="6.3" text-anchor="middle">2015</text>
<line x1="66.97" y1="169.70" x2="66.97" y2="171.90" stroke="#000" stroke-width="0.55"/>
<text transform="translate(66.97 178.39) matrix(1 .0005 0 1 0 0)" font-size="6.3" text-anchor="middle">2016</text>
<line x1="105.44" y1="169.70" x2="105.44" y2="171.90" stroke="#000" stroke-width="0.55"/>
<text transform="translate(105.44 178.39) matrix(1 .0005 0 1 0 0)" font-size="6.3" text-anchor="middle">2017</text>
<line x1="143.91" y1="169.70" x2="143.91" y2="171.90" stroke="#000" stroke-width="0.55"/>
<text transform="translate(143.91 178.39) matrix(1 .0005 0 1 0 0)" font-size="6.3" text-anchor="middle">2018</text>
<line x1="182.38" y1="169.70" x2="182.38" y2="171.90" stroke="#000" stroke-width="0.55"/>
<text transform="translate(182.38 178.39) matrix(1 .0005 0 1 0 0)" font-size="6.3" text-anchor="middle">2019</text>
<line x1="220.85" y1="169.70" x2="220.85" y2="171.90" stroke="#000" stroke-width="0.55"/>
<text transform="translate(220.85 178.39) matrix(1 .0005 0 1 0 0)" font-size="6.3" text-anchor="middle">2020</text>
<line x1="259.32" y1="169.70" x2="259.32" y2="171.90" stroke="#000" stroke-width="0.55"/>
<text transform="translate(259.32 178.39) matrix(1 .0005 0 1 0 0)" font-size="6.3" text-anchor="middle">2021</text>
<line x1="38.12" y1="169.70" x2="38.12" y2="170.96" stroke="#000" stroke-width="0.55"/>
<line x1="47.73" y1="169.70" x2="47.73" y2="170.96" stroke="#000" stroke-width="0.55"/>
<line x1="57.35" y1="169.70" x2="57.35" y2="170.96" stroke="#000" stroke-width="0.55"/>
<line x1="76.59" y1="169.70" x2="76.59" y2="170.96" stroke="#000" stroke-width="0.55"/>
<line x1="86.20" y1="169.70" x2="86.20" y2="170.96" stroke="#000" stroke-width="0.55"/>
<line x1="95.82" y1="169.70" x2="95.82" y2="170.96" stroke="#000" stroke-width="0.55"/>
<line x1="115.06" y1="169.70" x2="115.06" y2="170.96" stroke="#000" stroke-width="0.55"/>
<line x1="124.67" y1="169.70" x2="124.67" y2="170.96" stroke="#000" stroke-width="0.55"/>
<line x1="134.29" y1="169.70" x2="134.29" y2="170.96" stroke="#000" stroke-width="0.55"/>
<line x1="153.53" y1="169.70" x2="153.53" y2="170.96" stroke="#000" stroke-width="0.55"/>
<line x1="163.14" y1="169.70" x2="163.14" y2="170.96" stroke="#000" stroke-width="0.55"/>
<line x1="172.76" y1="169.70" x2="172.76" y2="170.96" stroke="#000" stroke-width="0.55"/>
<line x1="192.00" y1="169.70" x2="192.00" y2="170.96" stroke="#000" stroke-width="0.55"/>
<line x1="201.62" y1="169.70" x2="201.62" y2="170.96" stroke="#000" stroke-width="0.55"/>
<line x1="211.23" y1="169.70" x2="211.23" y2="170.96" stroke="#000" stroke-width="0.55"/>
<line x1="230.47" y1="169.70" x2="230.47" y2="170.96" stroke="#000" stroke-width="0.55"/>
<line x1="240.08" y1="169.70" x2="240.08" y2="170.96" stroke="#000" stroke-width="0.55"/>
<line x1="249.70" y1="169.70" x2="249.70" y2="170.96" stroke="#000" stroke-width="0.55"/>
<text transform="translate(148.65 187.90) matrix(1 .0005 0 1 0 0)" font-size="6.3" text-anchor="middle">Date</text>
<text transform="translate(32.90 39.60) matrix(1 .0005 0 1 0 0)" font-size="6.3">Q-Stat:</text>
<text transform="translate(65.30 39.60) matrix(1 .0005 0 1 0 0)" font-size="6.3">0.00</text>
<text transform="translate(32.90 47.50) matrix(1 .0005 0 1 0 0)" font-size="6.3">ADF:</text>
<text transform="translate(63.40 47.50) matrix(1 .0005 0 1 0 0)" font-size="6.3">0.00</text>
<text transform="translate(32.90 55.40) matrix(1 .0005 0 1 0 0)" font-size="6.3">Hurst: -0.0</text>
<g fill="#0000ff">
<circle cx="314.18" cy="163.41" r="2.3"/>
<circle cx="322.09" cy="153.76" r="2.3"/>
<circle cx="326.47" cy="143.76" r="2.3"/>
<circle cx="329.54" cy="142.45" r="2.3"/>
<circle cx="331.93" cy="139.01" r="2.3"/>
<circle cx="333.89" cy="137.85" r="2.3"/>
<circle cx="335.57" cy="136.72" r="2.3"/>
<circle cx="337.03" cy="136.05" r="2.3"/>
<circle cx="338.33" cy="133.72" r="2.3"/>
<circle cx="339.50" cy="132.44" r="2.3"/>
<circle cx="340.57" cy="132.41" r="2.3"/>
<circle cx="341.55" cy="132.27" r="2.3"/>
<circle cx="342.46" cy="130.40" r="2.3"/>
<circle cx="343.30" cy="129.91" r="2.3"/>
<circle cx="344.10" cy="129.80" r="2.3"/>
<circle cx="344.85" cy="129.31" r="2.3"/>
<circle cx="345.55" cy="127.84" r="2.3"/>
<circle cx="346.22" cy="127.71" r="2.3"/>
<circle cx="346.86" cy="126.51" r="2.3"/>
<circle cx="347.47" cy="126.51" r="2.3"/>
<circle cx="348.05" cy="126.34" r="2.3"/>
<circle cx="348.61" cy="126.23" r="2.3"/>
<circle cx="349.15" cy="125.20" r="2.3"/>
<circle cx="349.66" cy="124.75" r="2.3"/>
<circle cx="350.16" cy="124.68" r="2.3"/>
<circle cx="350.64" cy="124.56" r="2.3"/>
<circle cx="351.10" cy="123.84" r="2.3"/>
<circle cx="351.55" cy="123.61" r="2.3"/>
<circle cx="351.99" cy="122.43" r="2.3"/>
<circle cx="352.41" cy="122.06" r="2.3"/>
<circle cx="352.82" cy="121.69" r="2.3"/>
<circle cx="353.22" cy="121.34" r="2.3"/>
<circle cx="353.61" cy="121.00" r="2.3"/>
<circle cx="353.99" cy="120.67" r="2.3"/>
<circle cx="354.35" cy="120.35" r="2.3"/>
<circle cx="354.71" cy="120.03" r="2.3"/>
<circle cx="355.06" cy="119.72" r="2.3"/>
<circle cx="355.74" cy="119.20" r="2.3"/>
<circle cx="356.39" cy="118.73" r="2.3"/>
<circle cx="357.01" cy="118.29" r="2.3"/>
<circle cx="357.61" cy="117.86" r="2.3"/>
<circle cx="358.19" cy="117.45" r="2.3"/>
<circle cx="358.74" cy="117.05" r="2.3"/>
<circle cx="359.28" cy="116.67" r="2.3"/>
<circle cx="359.79" cy="116.30" r="2.3"/>
<circle cx="360.30" cy="115.94" r="2.3"/>
<circle cx="360.78" cy="115.59" r="2.3"/>
<circle cx="361.26" cy="115.23" r="2.3"/>
<circle cx="361.71" cy="114.86" r="2.3"/>
<circle cx="362.16" cy="114.51" r="2.3"/>
<circle cx="362.60" cy="114.16" r="2.3"/>
<circle cx="363.02" cy="113.83" r="2.3"/>
<circle cx="363.43" cy="113.50" r="2.3"/>
<circle cx="363.84" cy="113.18" r="2.3"/>
<circle cx="364.23" cy="112.87" r="2.3"/>
<circle cx="364.62" cy="112.56" r="2.3"/>
<circle cx="364.99" cy="112.26" r="2.3"/>
<circle cx="365.36" cy="111.97" r="2.3"/>
<circle cx="365.72" cy="111.68" r="2.3"/>
<circle cx="366.08" cy="111.40" r="2.3"/>
<circle cx="366.60" cy="111.06" r="2.3"/>
<circle cx="367.10" cy="110.76" r="2.3"/>
<circle cx="367.59" cy="110.47" r="2.3"/>
<circle cx="368.07" cy="110.19" r="2.3"/>
<circle cx="368.53" cy="109.92" r="2.3"/>
<circle cx="368.99" cy="109.65" r="2.3"/>
<circle cx="369.43" cy="109.39" r="2.3"/>
<circle cx="369.86" cy="109.14" r="2.3"/>
<circle cx="370.28" cy="108.89" r="2.3"/>
<circle cx="370.70" cy="108.65" r="2.3"/>
<circle cx="371.10" cy="108.41" r="2.3"/>
<circle cx="371.50" cy="108.17" r="2.3"/>
<circle cx="371.89" cy="107.95" r="2.3"/>
<circle cx="372.40" cy="107.66" r="2.3"/>
<circle cx="372.89" cy="107.39" r="2.3"/>
<circle cx="373.37" cy="107.12" r="2.3"/>
<circle cx="373.84" cy="106.86" r="2.3"/>
<circle cx="374.31" cy="106.60" r="2.3"/>
<circle cx="374.76" cy="106.35" r="2.3"/>
<circle cx="375.20" cy="106.11" r="2.3"/>
<circle cx="375.63" cy="105.87" r="2.3"/>
<circle cx="376.05" cy="105.63" r="2.3"/>
<circle cx="376.47" cy="105.40" r="2.3"/>
<circle cx="376.88" cy="105.18" r="2.3"/>
<circle cx="377.28" cy="104.95" r="2.3"/>
<circle cx="377.77" cy="104.71" r="2.3"/>
<circle cx="378.24" cy="104.48" r="2.3"/>
<circle cx="378.71" cy="104.25" r="2.3"/>
<circle cx="379.17" cy="104.03" r="2.3"/>
<circle cx="379.62" cy="103.81" r="2.3"/>
<circle cx="380.07" cy="103.60" r="2.3"/>
<circle cx="380.50" cy="103.39" r="2.3"/>
<circle cx="380.93" cy="103.19" r="2.3"/>
<circle cx="381.35" cy="102.99" r="2.3"/>
<circle cx="381.76" cy="102.79" r="2.3"/>
<circle cx="382.24" cy="102.55" r="2.3"/>
<circle cx="382.72" cy="102.33" r="2.3"/>
<circle cx="383.19" cy="102.12" r="2.3"/>
<circle cx="383.64" cy="101.93" r="2.3"/>
<circle cx="384.09" cy="101.73" r="2.3"/>
<circle cx="384.54" cy="101.54" r="2.3"/>
<circle cx="384.97" cy="101.36" r="2.3"/>
<circle cx="385.40" cy="101.17" r="2.3"/>
<circle cx="385.82" cy="100.99" r="2.3"/>
<circle cx="386.24" cy="100.82" r="2.3"/>
<circle cx="386.71" cy="100.61" r="2.3"/>
<circle cx="387.18" cy="100.41" r="2.3"/>
<circle cx="387.64" cy="100.22" r="2.3"/>
<circle cx="388.09" cy="100.02" r="2.3"/>
<circle cx="388.54" cy="99.83" r="2.3"/>
<circle cx="388.98" cy="99.67" r="2.3"/>
<circle cx="389.41" cy="99.51" r="2.3"/>
<circle cx="389.84" cy="99.35" r="2.3"/>
<circle cx="390.32" cy="99.18" r="2.3"/>
<circle cx="390.79" cy="99.00" r="2.3"/>
<circle cx="391.26" cy="98.83" r="2.3"/>
<circle cx="391.72" cy="98.66" r="2.3"/>
<circle cx="392.17" cy="98.49" r="2.3"/>
<circle cx="392.62" cy="98.33" r="2.3"/>
<circle cx="393.06" cy="98.17" r="2.3"/>
<circle cx="393.49" cy="98.01" r="2.3"/>
<circle cx="393.92" cy="97.85" r="2.3"/>
<circle cx="394.40" cy="97.70" r="2.3"/>
<circle cx="394.87" cy="97.55" r="2.3"/>
<circle cx="395.34" cy="97.41" r="2.3"/>
<circle cx="395.79" cy="97.27" r="2.3"/>
<circle cx="396.25" cy="97.13" r="2.3"/>
<circle cx="396.69" cy="96.99" r="2.3"/>
<circle cx="397.14" cy="96.85" r="2.3"/>
<circle cx="397.57" cy="96.71" r="2.3"/>
<circle cx="398.01" cy="96.58" r="2.3"/>
<circle cx="398.48" cy="96.43" r="2.3"/>
<circle cx="398.95" cy="96.28" r="2.3"/>
<circle cx="399.42" cy="96.15" r="2.3"/>
<circle cx="399.88" cy="96.06" r="2.3"/>
<circle cx="400.33" cy="95.98" r="2.3"/>
<circle cx="400.78" cy="95.90" r="2.3"/>
<circle cx="401.23" cy="95.81" r="2.3"/>
<circle cx="401.71" cy="95.72" r="2.3"/>
<circle cx="402.19" cy="95.63" r="2.3"/>
<circle cx="402.67" cy="95.55" r="2.3"/>
<circle cx="403.14" cy="95.46" r="2.3"/>
<circle cx="403.60" cy="95.37" r="2.3"/>
<circle cx="404.07" cy="95.29" r="2.3"/>
<circle cx="404.53" cy="95.20" r="2.3"/>
<circle cx="404.98" cy="95.12" r="2.3"/>
<circle cx="405.43" cy="95.03" r="2.3"/>
<circle cx="405.88" cy="94.95" r="2.3"/>
<circle cx="406.32" cy="94.87" r="2.3"/>
<circle cx="406.80" cy="94.78" r="2.3"/>
<circle cx="407.28" cy="94.69" r="2.3"/>
<circle cx="407.75" cy="94.61" r="2.3"/>
<circle cx="408.22" cy="94.55" r="2.3"/>
<circle cx="408.69" cy="94.48" r="2.3"/>
<circle cx="409.15" cy="94.42" r="2.3"/>
<circle cx="409.61" cy="94.36" r="2.3"/>
<circle cx="410.07" cy="94.29" r="2.3"/>
<circle cx="410.53" cy="94.23" r="2.3"/>
<circle cx="410.98" cy="94.17" r="2.3"/>
<circle cx="411.43" cy="94.11" r="2.3"/>
<circle cx="411.88" cy="94.05" r="2.3"/>
<circle cx="412.36" cy="93.98" r="2.3"/>
<circle cx="412.84" cy="93.92" r="2.3"/>
<circle cx="413.32" cy="93.85" r="2.3"/>
<circle cx="413.79" cy="93.78" r="2.3"/>
<circle cx="414.27" cy="93.72" r="2.3"/>
<circle cx="414.74" cy="93.66" r="2.3"/>
<circle cx="415.21" cy="93.59" r="2.3"/>
<circle cx="415.67" cy="93.53" r="2.3"/>
<circle cx="416.14" cy="93.47" r="2.3"/>
<circle cx="416.60" cy="93.42" r="2.3"/>
<circle cx="417.07" cy="93.37" r="2.3"/>
<circle cx="417.53" cy="93.32" r="2.3"/>
<circle cx="417.99" cy="93.27" r="2.3"/>
<circle cx="418.45" cy="93.22" r="2.3"/>
<circle cx="418.91" cy="93.17" r="2.3"/>
<circle cx="419.37" cy="93.12" r="2.3"/>
<circle cx="419.82" cy="93.07" r="2.3"/>
<circle cx="420.28" cy="93.02" r="2.3"/>
<circle cx="420.74" cy="92.97" r="2.3"/>
<circle cx="421.19" cy="92.92" r="2.3"/>
<circle cx="421.65" cy="92.87" r="2.3"/>
<circle cx="422.10" cy="92.82" r="2.3"/>
<circle cx="422.55" cy="92.77" r="2.3"/>
<circle cx="423.01" cy="92.72" r="2.3"/>
<circle cx="423.46" cy="92.65" r="2.3"/>
<circle cx="423.92" cy="92.55" r="2.3"/>
<circle cx="424.37" cy="92.45" r="2.3"/>
<circle cx="424.82" cy="92.36" r="2.3"/>
<circle cx="425.28" cy="92.26" r="2.3"/>
<circle cx="425.73" cy="92.17" r="2.3"/>
<circle cx="426.19" cy="92.07" r="2.3"/>
<circle cx="426.65" cy="91.97" r="2.3"/>
<circle cx="427.10" cy="91.88" r="2.3"/>
<circle cx="427.56" cy="91.78" r="2.3"/>
<circle cx="428.02" cy="91.68" r="2.3"/>
<circle cx="428.48" cy="91.59" r="2.3"/>
<circle cx="428.94" cy="91.49" r="2.3"/>
<circle cx="429.40" cy="91.39" r="2.3"/>
<circle cx="429.87" cy="91.29" r="2.3"/>
<circle cx="430.33" cy="91.20" r="2.3"/>
<circle cx="430.80" cy="91.10" r="2.3"/>
<circle cx="431.27" cy="91.00" r="2.3"/>
<circle cx="431.74" cy="90.89" r="2.3"/>
<circle cx="432.21" cy="90.78" r="2.3"/>
<circle cx="432.68" cy="90.67" r="2.3"/>
<circle cx="433.12" cy="90.57" r="2.3"/>
<circle cx="433.56" cy="90.47" r="2.3"/>
<circle cx="434.00" cy="90.37" r="2.3"/>
<circle cx="434.45" cy="90.27" r="2.3"/>
<circle cx="434.90" cy="90.16" r="2.3"/>
<circle cx="435.35" cy="90.06" r="2.3"/>
<circle cx="435.80" cy="89.96" r="2.3"/>
<circle cx="436.25" cy="89.85" r="2.3"/>
<circle cx="436.71" cy="89.75" r="2.3"/>
<circle cx="437.17" cy="89.64" r="2.3"/>
<circle cx="437.63" cy="89.53" r="2.3"/>
<circle cx="438.10" cy="89.43" r="2.3"/>
<circle cx="438.57" cy="89.32" r="2.3"/>
<circle cx="439.04" cy="89.21" r="2.3"/>
<circle cx="439.52" cy="89.10" r="2.3"/>
<circle cx="440.00" cy="89.01" r="2.3"/>
<circle cx="440.44" cy="88.92" r="2.3"/>
<circle cx="440.89" cy="88.83" r="2.3"/>
<circle cx="441.34" cy="88.75" r="2.3"/>
<circle cx="441.79" cy="88.66" r="2.3"/>
<circle cx="442.25" cy="88.57" r="2.3"/>
<circle cx="442.71" cy="88.48" r="2.3"/>
<circle cx="443.18" cy="88.38" r="2.3"/>
<circle cx="443.65" cy="88.29" r="2.3"/>
<circle cx="444.12" cy="88.20" r="2.3"/>
<circle cx="444.60" cy="88.11" r="2.3"/>
<circle cx="445.09" cy="88.01" r="2.3"/>
<circle cx="445.53" cy="87.92" r="2.3"/>
<circle cx="445.98" cy="87.84" r="2.3"/>
<circle cx="446.43" cy="87.75" r="2.3"/>
<circle cx="446.89" cy="87.66" r="2.3"/>
<circle cx="447.35" cy="87.57" r="2.3"/>
<circle cx="447.82" cy="87.47" r="2.3"/>
<circle cx="448.30" cy="87.35" r="2.3"/>
<circle cx="448.78" cy="87.23" r="2.3"/>
<circle cx="449.26" cy="87.12" r="2.3"/>
<circle cx="449.71" cy="87.01" r="2.3"/>
<circle cx="450.15" cy="86.90" r="2.3"/>
<circle cx="450.61" cy="86.79" r="2.3"/>
<circle cx="451.06" cy="86.68" r="2.3"/>
<circle cx="451.53" cy="86.56" r="2.3"/>
<circle cx="452.00" cy="86.45" r="2.3"/>
<circle cx="452.48" cy="86.33" r="2.3"/>
<circle cx="452.96" cy="86.21" r="2.3"/>
<circle cx="453.45" cy="86.09" r="2.3"/>
<circle cx="453.89" cy="85.98" r="2.3"/>
<circle cx="454.34" cy="85.87" r="2.3"/>
<circle cx="454.79" cy="85.76" r="2.3"/>
<circle cx="455.26" cy="85.65" r="2.3"/>
<circle cx="455.72" cy="85.54" r="2.3"/>
<circle cx="456.20" cy="85.41" r="2.3"/>
<circle cx="456.68" cy="85.26" r="2.3"/>
<circle cx="457.17" cy="85.12" r="2.3"/>
<circle cx="457.61" cy="84.98" r="2.3"/>
<circle cx="458.05" cy="84.85" r="2.3"/>
<circle cx="458.50" cy="84.72" r="2.3"/>
<circle cx="458.96" cy="84.58" r="2.3"/>
<circle cx="459.42" cy="84.44" r="2.3"/>
<circle cx="459.89" cy="84.30" r="2.3"/>
<circle cx="460.37" cy="84.16" r="2.3"/>
<circle cx="460.86" cy="84.01" r="2.3"/>
<circle cx="461.36" cy="83.86" r="2.3"/>
<circle cx="461.79" cy="83.73" r="2.3"/>
<circle cx="462.23" cy="83.60" r="2.3"/>
<circle cx="462.68" cy="83.46" r="2.3"/>
<circle cx="463.14" cy="83.33" r="2.3"/>
<circle cx="463.60" cy="83.19" r="2.3"/>
<circle cx="464.08" cy="83.05" r="2.3"/>
<circle cx="464.56" cy="82.87" r="2.3"/>
<circle cx="465.05" cy="82.67" r="2.3"/>
<circle cx="465.47" cy="82.50" r="2.3"/>
<circle cx="465.90" cy="82.33" r="2.3"/>
<circle cx="466.33" cy="82.16" r="2.3"/>
<circle cx="466.78" cy="81.98" r="2.3"/>
<circle cx="467.23" cy="81.80" r="2.3"/>
<circle cx="467.69" cy="81.62" r="2.3"/>
<circle cx="468.16" cy="81.43" r="2.3"/>
<circle cx="468.63" cy="81.24" r="2.3"/>
<circle cx="469.12" cy="81.04" r="2.3"/>
<circle cx="469.63" cy="80.84" r="2.3"/>
<circle cx="470.14" cy="80.64" r="2.3"/>
<circle cx="470.56" cy="80.47" r="2.3"/>
<circle cx="470.99" cy="80.30" r="2.3"/>
<circle cx="471.42" cy="80.12" r="2.3"/>
<circle cx="471.87" cy="79.95" r="2.3"/>
<circle cx="472.32" cy="79.76" r="2.3"/>
<circle cx="472.79" cy="79.55" r="2.3"/>
<circle cx="473.27" cy="79.31" r="2.3"/>
<circle cx="473.75" cy="79.06" r="2.3"/>
<circle cx="474.26" cy="78.81" r="2.3"/>
<circle cx="474.77" cy="78.55" r="2.3"/>
<circle cx="475.30" cy="78.29" r="2.3"/>
<circle cx="475.70" cy="78.08" r="2.3"/>
<circle cx="476.12" cy="77.88" r="2.3"/>
<circle cx="476.54" cy="77.66" r="2.3"/>
<circle cx="476.97" cy="77.45" r="2.3"/>
<circle cx="477.41" cy="77.22" r="2.3"/>
<circle cx="477.87" cy="77.00" r="2.3"/>
<circle cx="478.33" cy="76.75" r="2.3"/>
<circle cx="478.81" cy="76.47" r="2.3"/>
<circle cx="479.30" cy="76.19" r="2.3"/>
<circle cx="479.80" cy="75.89" r="2.3"/>
<circle cx="480.32" cy="75.59" r="2.3"/>
<circle cx="480.85" cy="75.28" r="2.3"/>
<circle cx="481.41" cy="74.96" r="2.3"/>
<circle cx="481.97" cy="74.63" r="2.3"/>
<circle cx="482.36" cy="74.40" r="2.3"/>
<circle cx="482.76" cy="74.17" r="2.3"/>
<circle cx="483.17" cy="73.93" r="2.3"/>
<circle cx="483.59" cy="73.69" r="2.3"/>
<circle cx="484.02" cy="73.45" r="2.3"/>
<circle cx="484.46" cy="73.21" r="2.3"/>
<circle cx="484.91" cy="72.96" r="2.3"/>
<circle cx="485.38" cy="72.70" r="2.3"/>
<circle cx="485.86" cy="72.44" r="2.3"/>
<circle cx="486.35" cy="72.17" r="2.3"/>
<circle cx="486.86" cy="71.89" r="2.3"/>
<circle cx="487.39" cy="71.60" r="2.3"/>
<circle cx="487.93" cy="71.30" r="2.3"/>
<circle cx="488.50" cy="70.99" r="2.3"/>
<circle cx="489.09" cy="70.67" r="2.3"/>
<circle cx="489.69" cy="70.39" r="2.3"/>
<circle cx="490.33" cy="70.09" r="2.3"/>
<circle cx="490.99" cy="69.78" r="2.3"/>
<circle cx="491.69" cy="69.46" r="2.3"/>
<circle cx="492.41" cy="69.12" r="2.3"/>
<circle cx="493.18" cy="68.76" r="2.3"/>
<circle cx="493.99" cy="68.38" r="2.3"/>
<circle cx="494.41" cy="68.18" r="2.3"/>
<circle cx="494.85" cy="67.93" r="2.3"/>
<circle cx="495.30" cy="67.72" r="2.3"/>
<circle cx="495.76" cy="67.71" r="2.3"/>
<circle cx="496.24" cy="67.42" r="2.3"/>
<circle cx="496.74" cy="67.39" r="2.3"/>
<circle cx="497.25" cy="66.89" r="2.3"/>
<circle cx="497.79" cy="66.32" r="2.3"/>
<circle cx="498.35" cy="65.50" r="2.3"/>
<circle cx="498.93" cy="65.05" r="2.3"/>
<circle cx="499.54" cy="64.85" r="2.3"/>
<circle cx="500.18" cy="64.73" r="2.3"/>
<circle cx="500.85" cy="63.69" r="2.3"/>
<circle cx="501.55" cy="63.09" r="2.3"/>
<circle cx="502.30" cy="62.33" r="2.3"/>
<circle cx="503.10" cy="61.14" r="2.3"/>
<circle cx="503.94" cy="60.59" r="2.3"/>
<circle cx="504.85" cy="60.50" r="2.3"/>
<circle cx="505.83" cy="59.51" r="2.3"/>
<circle cx="506.90" cy="59.12" r="2.3"/>
<circle cx="508.07" cy="57.66" r="2.3"/>
<circle cx="509.37" cy="55.64" r="2.3"/>
<circle cx="510.83" cy="54.25" r="2.3"/>
<circle cx="512.51" cy="52.56" r="2.3"/>
<circle cx="514.47" cy="51.52" r="2.3"/>
<circle cx="516.86" cy="47.41" r="2.3"/>
<circle cx="519.93" cy="45.64" r="2.3"/>
<circle cx="524.31" cy="43.80" r="2.3"/>
<circle cx="532.22" cy="41.85" r="2.3"/>
</g>
<line x1="314.18" y1="124.71" x2="532.22" y2="59.68" stroke="#ff0000" stroke-width="0.95"/>
<rect x="302.90" y="35.30" width="240.70" height="134.40" fill="none" stroke="#000" stroke-width="0.55"/>
<line x1="300.70" y1="169.62" x2="302.90" y2="169.62" stroke="#000" stroke-width="0.55"/>
<text transform="translate(298.60 171.89) matrix(1 .0005 0 1 0 0)" font-size="6.3" text-anchor="end">−25</text>
<line x1="300.70" y1="154.25" x2="302.90" y2="154.25" stroke="#000" stroke-width="0.55"/>
<text transform="translate(298.60 156.52) matrix(1 .0005 0 1 0 0)" font-size="6.3" text-anchor="end">−20</text>
<line x1="300.70" y1="138.88" x2="302.90" y2="138.88" stroke="#000" stroke-width="0.55"/>
<text transform="translate(298.60 141.14) matrix(1 .0005 0 1 0 0)" font-size="6.3" text-anchor="end">−15</text>
<line x1="300.70" y1="123.50" x2="302.90" y2="123.50" stroke="#000" stroke-width="0.55"/>
<text transform="translate(298.60 125.77) matrix(1 .0005 0 1 0 0)" font-size="6.3" text-anchor="end">−10</text>
<line x1="300.70" y1="108.12" x2="302.90" y2="108.12" stroke="#000" stroke-width="0.55"/>
<text transform="translate(298.60 110.39) matrix(1 .0005 0 1 0 0)" font-size="6.3" text-anchor="end">−5</text>
<line x1="300.70" y1="92.75" x2="302.90" y2="92.75" stroke="#000" stroke-width="0.55"/>
<text transform="translate(298.60 95.02) matrix(1 .0005 0 1 0 0)" font-size="6.3" text-anchor="end">0</text>
<line x1="300.70" y1="77.38" x2="302.90" y2="77.38" stroke="#000" stroke-width="0.55"/>
<text transform="translate(298.60 79.64) matrix(1 .0005 0 1 0 0)" font-size="6.3" text-anchor="end">5</text>
<line x1="300.70" y1="62.00" x2="302.90" y2="62.00" stroke="#000" stroke-width="0.55"/>
<text transform="translate(298.60 64.27) matrix(1 .0005 0 1 0 0)" font-size="6.3" text-anchor="end">10</text>
<line x1="300.70" y1="46.62" x2="302.90" y2="46.62" stroke="#000" stroke-width="0.55"/>
<text transform="translate(298.60 48.89) matrix(1 .0005 0 1 0 0)" font-size="6.3" text-anchor="end">15</text>
<line x1="327.80" y1="169.70" x2="327.80" y2="171.90" stroke="#000" stroke-width="0.55"/>
<text transform="translate(327.80 179.69) matrix(1 .0005 0 1 0 0)" font-size="6.3" text-anchor="middle">−3</text>
<line x1="359.60" y1="169.70" x2="359.60" y2="171.90" stroke="#000" stroke-width="0.55"/>
<text transform="translate(359.60 179.69) matrix(1 .0005 0 1 0 0)" font-size="6.3" text-anchor="middle">−2</text>
<line x1="391.40" y1="169.70" x2="391.40" y2="171.90" stroke="#000" stroke-width="0.55"/>
<text transform="translate(391.40 179.69) matrix(1 .0005 0 1 0 0)" font-size="6.3" text-anchor="middle">−1</text>
<line x1="423.20" y1="169.70" x2="423.20" y2="171.90" stroke="#000" stroke-width="0.55"/>
<text transform="translate(423.20 179.69) matrix(1 .0005 0 1 0 0)" font-size="6.3" text-anchor="middle">0</text>
<line x1="455.00" y1="169.70" x2="455.00" y2="171.90" stroke="#000" stroke-width="0.55"/>
<text transform="translate(455.00 179.69) matrix(1 .0005 0 1 0 0)" font-size="6.3" text-anchor="middle">1</text>
<line x1="486.80" y1="169.70" x2="486.80" y2="171.90" stroke="#000" stroke-width="0.55"/>
<text transform="translate(486.80 179.69) matrix(1 .0005 0 1 0 0)" font-size="6.3" text-anchor="middle">2</text>
<line x1="518.60" y1="169.70" x2="518.60" y2="171.90" stroke="#000" stroke-width="0.55"/>
<text transform="translate(518.60 179.69) matrix(1 .0005 0 1 0 0)" font-size="6.3" text-anchor="middle">3</text>
<text transform="translate(423.25 188.60) matrix(1 .0005 0 1 0 0)" font-size="6.3" text-anchor="middle">Theoretical quantiles</text>
<text transform="translate(280.60 102.50) rotate(-90) matrix(1 .0005 0 1 0 0)" font-size="6.3" text-anchor="middle">Ordered Values</text>
<text transform="translate(423.25 31.20) matrix(1 .0005 0 1 0 0)" font-size="7.7" text-anchor="middle">Probability Plot</text>
<text transform="translate(307.30 46.40) matrix(1 .0005 0 1 0 0)" font-size="6.3">Mean:</text>
<text transform="translate(345.60 46.40) matrix(1 .0005 0 1 0 0)" font-size="6.3">0.00</text>
<text transform="translate(307.30 53.40) matrix(1 .0005 0 1 0 0)" font-size="6.3">SD:</text>
<text transform="translate(345.00 53.40) matrix(1 .0005 0 1 0 0)" font-size="6.3">3.23</text>
<text transform="translate(307.30 60.90) matrix(1 .0005 0 1 0 0)" font-size="6.3">Skew:</text>
<text transform="translate(340.60 60.90) matrix(1 .0005 0 1 0 0)" font-size="6.3">-15.82</text>
<text transform="translate(307.30 68.40) matrix(1 .0005 0 1 0 0)" font-size="6.3">Kurtosis:</text>
<text transform="translate(341.90 68.40) matrix(1 .0005 0 1 0 0)" font-size="6.3">923.83</text>
<polygon points="39.29,293.32 42.56,292.41 44.75,292.40 46.93,292.40 49.11,292.39 51.29,292.37 53.47,292.34 55.66,292.34 57.84,292.31 60.02,292.30 62.20,292.26 64.38,292.26 66.57,292.26 68.75,292.26 70.93,292.25 73.11,292.25 75.29,292.25 77.48,292.24 79.66,292.20 81.84,292.19 84.02,292.17 86.20,292.16 88.39,292.14 90.57,292.14 92.75,292.12 94.93,292.11 97.11,292.09 99.30,292.09 101.48,292.09 103.66,292.04 105.84,292.03 108.02,292.03 110.21,292.03 112.39,292.02 114.57,292.01 116.75,292.01 118.93,292.00 121.12,291.97 123.30,291.97 125.48,291.97 127.66,291.96 129.84,291.96 132.03,291.93 134.21,291.89 136.39,291.89 138.57,291.89 140.75,291.88 142.94,291.85 145.12,291.85 147.30,291.84 149.48,291.82 151.66,291.82 153.85,291.82 156.03,291.82 158.21,291.82 160.39,291.82 162.57,291.82 164.76,291.82 166.94,291.80 169.12,291.77 171.30,291.77 173.48,291.77 175.67,291.76 177.85,291.75 180.03,291.74 182.21,291.73 184.39,291.73 186.58,291.73 188.76,291.73 190.94,291.72 193.12,291.69 195.30,291.69 197.49,291.69 199.67,291.69 201.85,291.68 204.03,291.68 206.21,291.68 208.40,291.68 210.58,291.68 212.76,291.67 214.94,291.66 217.12,291.66 219.31,291.65 221.49,291.64 223.67,291.61 225.85,291.61 228.03,291.61 230.22,291.61 232.40,291.60 234.58,291.59 236.76,291.59 238.94,291.59 241.13,291.59 243.31,291.58 245.49,291.58 247.67,291.57 249.85,291.57 252.04,291.56 254.22,291.56 257.49,291.53 257.49,329.47 254.22,329.44 252.04,329.44 249.85,329.43 247.67,329.43 245.49,329.42 243.31,329.42 241.13,329.41 238.94,329.41 236.76,329.41 234.58,329.41 232.40,329.40 230.22,329.39 228.03,329.39 225.85,329.39 223.67,329.39 221.49,329.36 219.31,329.35 217.12,329.34 214.94,329.34 212.76,329.33 210.58,329.32 208.40,329.32 206.21,329.32 204.03,329.32 201.85,329.32 199.67,329.31 197.49,329.31 195.30,329.31 193.12,329.31 190.94,329.28 188.76,329.27 186.58,329.27 184.39,329.27 182.21,329.27 180.03,329.26 177.85,329.25 175.67,329.24 173.48,329.23 171.30,329.23 169.12,329.23 166.94,329.20 164.76,329.18 162.57,329.18 160.39,329.18 158.21,329.18 156.03,329.18 153.85,329.18 151.66,329.18 149.48,329.18 147.30,329.16 145.12,329.15 142.94,329.15 140.75,329.12 138.57,329.11 136.39,329.11 134.21,329.11 132.03,329.07 129.84,329.04 127.66,329.04 125.48,329.03 123.30,329.03 121.12,329.03 118.93,329.00 116.75,328.99 114.57,328.99 112.39,328.98 110.21,328.97 108.02,328.97 105.84,328.97 103.66,328.96 101.48,328.91 99.30,328.91 97.11,328.91 94.93,328.89 92.75,328.88 90.57,328.86 88.39,328.86 86.20,328.84 84.02,328.83 81.84,328.81 79.66,328.80 77.48,328.76 75.29,328.75 73.11,328.75 70.93,328.75 68.75,328.74 66.57,328.74 64.38,328.74 62.20,328.74 60.02,328.70 57.84,328.69 55.66,328.66 53.47,328.66 51.29,328.63 49.11,328.61 46.93,328.60 44.75,328.60 42.56,328.59 39.29,327.68" fill="#1f77b4" fill-opacity="0.25"/>
<path d="M40.38 310.50V212.94M42.56 310.50V317.19M44.75 310.50V307.57M46.93 310.50V298.67M49.11 310.50V296.71M51.29 310.50V292.32M53.47 310.50V311.55M55.66 310.50V328.06M57.84 310.50V320.24M60.02 310.50V288.97M62.20 310.50V303.81M64.38 310.50V311.13M66.57 310.50V308.83M68.75 310.50V305.07M70.93 310.50V302.98M73.11 310.50V306.74M75.29 310.50V305.07M77.48 310.50V289.68M79.66 310.50V297.75M81.84 310.50V295.95M84.02 310.50V321.37M86.20 310.50V325.76M88.39 310.50V308.83M90.57 310.50V323.25M92.75 310.50V321.16M94.93 310.50V296.71M97.11 310.50V305.48M99.30 310.50V315.10M101.48 310.50V334.12M103.66 310.50V319.49M105.84 310.50V311.75M108.02 310.50V306.32M110.21 310.50V297.75M112.39 310.50V317.19M114.57 310.50V317.19M116.75 310.50V319.49M118.93 310.50V292.82M121.12 310.50V304.65M123.30 310.50V311.34M125.48 310.50V302.98M127.66 310.50V306.11M129.84 310.50V293.03M132.03 310.50V289.68M134.21 310.50V303.10M136.39 310.50V312.17M138.57 310.50V303.39M140.75 310.50V329.31M142.94 310.50V319.28M145.12 310.50V321.16M147.30 310.50V321.16M149.48 310.50V314.35M151.66 310.50V314.93M153.85 310.50V313.84M156.03 310.50V313.01M158.21 310.50V308.41M160.39 310.50V310.08M162.57 310.50V313.84M164.76 310.50V294.87M166.94 310.50V294.87M169.12 310.50V307.57M171.30 310.50V319.07M173.48 310.50V319.86M175.67 310.50V300.64M177.85 310.50V298.80M180.03 310.50V303.39M182.21 310.50V311.17M184.39 310.50V314.93M186.58 310.50V314.93M188.76 310.50V301.30M190.94 310.50V291.40M193.12 310.50V309.45M195.30 310.50V307.57M197.49 310.50V311.13M199.67 310.50V300.05M201.85 310.50V309.66M204.03 310.50V315.77M206.21 310.50V313.30M208.40 310.50V311.34M210.58 310.50V306.32M212.76 310.50V299.30M214.94 310.50V314.43M217.12 310.50V301.76M219.31 310.50V300.13M221.49 310.50V290.60M223.67 310.50V307.99M225.85 310.50V307.57M228.03 310.50V305.07M230.22 310.50V319.53M232.40 310.50V317.40M234.58 310.50V312.59M236.76 310.50V305.48M238.94 310.50V303.10M241.13 310.50V318.73M243.31 310.50V310.29M245.49 310.50V323.25M247.67 310.50V311.75M249.85 310.50V315.27M252.04 310.50V301.76M254.22 310.50V294.37M256.40 310.50V309.66" stroke="#1f77b4" stroke-width="1.1" fill="none"/>
<line x1="28.5" y1="310.50" x2="268.8" y2="310.50" stroke="#1f77b4" stroke-width="0.95"/>
<g fill="#1f77b4">
<circle cx="40.38" cy="212.94" r="1.95"/>
<circle cx="42.56" cy="317.19" r="1.95"/>
<circle cx="44.75" cy="307.57" r="1.95"/>
<circle cx="46.93" cy="298.67" r="1.95"/>
<circle cx="49.11" cy="296.71" r="1.95"/>
<circle cx="51.29" cy="292.32" r="1.95"/>
<circle cx="53.47" cy="311.55" r="1.95"/>
<circle cx="55.66" cy="328.06" r="1.95"/>
<circle cx="57.84" cy="320.24" r="1.95"/>
<circle cx="60.02" cy="288.97" r="1.95"/>
<circle cx="62.20" cy="303.81" r="1.95"/>
<circle cx="64.38" cy="311.13" r="1.95"/>
<circle cx="66.57" cy="308.83" r="1.95"/>
<circle cx="68.75" cy="305.07" r="1.95"/>
<circle cx="70.93" cy="302.98" r="1.95"/>
<circle cx="73.11" cy="306.74" r="1.95"/>
<circle cx="75.29" cy="305.07" r="1.95"/>
<circle cx="77.48" cy="289.68" r="1.95"/>
<circle cx="79.66" cy="297.75" r="1.95"/>
<circle cx="81.84" cy="295.95" r="1.95"/>
<circle cx="84.02" cy="321.37" r="1.95"/>
<circle cx="86.20" cy="325.76" r="1.95"/>
<circle cx="88.39" cy="308.83" r="1.95"/>
<circle cx="90.57" cy="323.25" r="1.95"/>
<circle cx="92.75" cy="321.16" r="1.95"/>
<circle cx="94.93" cy="296.71" r="1.95"/>
<circle cx="97.11" cy="305.48" r="1.95"/>
<circle cx="99.30" cy="315.10" r="1.95"/>
<circle cx="101.48" cy="334.12" r="1.95"/>
<circle cx="103.66" cy="319.49" r="1.95"/>
<circle cx="105.84" cy="311.75" r="1.95"/>
<circle cx="108.02" cy="306.32" r="1.95"/>
<circle cx="110.21" cy="297.75" r="1.95"/>
<circle cx="112.39" cy="317.19" r="1.95"/>
<circle cx="114.57" cy="317.19" r="1.95"/>
<circle cx="116.75" cy="319.49" r="1.95"/>
<circle cx="118.93" cy="292.82" r="1.95"/>
<circle cx="121.12" cy="304.65" r="1.95"/>
<circle cx="123.30" cy="311.34" r="1.95"/>
<circle cx="125.48" cy="302.98" r="1.95"/>
<circle cx="127.66" cy="306.11" r="1.95"/>
<circle cx="129.84" cy="293.03" r="1.95"/>
<circle cx="132.03" cy="289.68" r="1.95"/>
<circle cx="134.21" cy="303.10" r="1.95"/>
<circle cx="136.39" cy="312.17" r="1.95"/>
<circle cx="138.57" cy="303.39" r="1.95"/>
<circle cx="140.75" cy="329.31" r="1.95"/>
<circle cx="142.94" cy="319.28" r="1.95"/>
<circle cx="145.12" cy="321.16" r="1.95"/>
<circle cx="147.30" cy="321.16" r="1.95"/>
<circle cx="149.48" cy="314.35" r="1.95"/>
<circle cx="151.66" cy="314.93" r="1.95"/>
<circle cx="153.85" cy="313.84" r="1.95"/>
<circle cx="156.03" cy="313.01" r="1.95"/>
<circle cx="158.21" cy="308.41" r="1.95"/>
<circle cx="160.39" cy="310.08" r="1.95"/>
<circle cx="162.57" cy="313.84" r="1.95"/>
<circle cx="164.76" cy="294.87" r="1.95"/>
<circle cx="166.94" cy="294.87" r="1.95"/>
<circle cx="169.12" cy="307.57" r="1.95"/>
<circle cx="171.30" cy="319.07" r="1.95"/>
<circle cx="173.48" cy="319.86" r="1.95"/>
<circle cx="175.67" cy="300.64" r="1.95"/>
<circle cx="177.85" cy="298.80" r="1.95"/>
<circle cx="180.03" cy="303.39" r="1.95"/>
<circle cx="182.21" cy="311.17" r="1.95"/>
<circle cx="184.39" cy="314.93" r="1.95"/>
<circle cx="186.58" cy="314.93" r="1.95"/>
<circle cx="188.76" cy="301.30" r="1.95"/>
<circle cx="190.94" cy="291.40" r="1.95"/>
<circle cx="193.12" cy="309.45" r="1.95"/>
<circle cx="195.30" cy="307.57" r="1.95"/>
<circle cx="197.49" cy="311.13" r="1.95"/>
<circle cx="199.67" cy="300.05" r="1.95"/>
<circle cx="201.85" cy="309.66" r="1.95"/>
<circle cx="204.03" cy="315.77" r="1.95"/>
<circle cx="206.21" cy="313.30" r="1.95"/>
<circle cx="208.40" cy="311.34" r="1.95"/>
<circle cx="210.58" cy="306.32" r="1.95"/>
<circle cx="212.76" cy="299.30" r="1.95"/>
<circle cx="214.94" cy="314.43" r="1.95"/>
<circle cx="217.12" cy="301.76" r="1.95"/>
<circle cx="219.31" cy="300.13" r="1.95"/>
<circle cx="221.49" cy="290.60" r="1.95"/>
<circle cx="223.67" cy="307.99" r="1.95"/>
<circle cx="225.85" cy="307.57" r="1.95"/>
<circle cx="228.03" cy="305.07" r="1.95"/>
<circle cx="230.22" cy="319.53" r="1.95"/>
<circle cx="232.40" cy="317.40" r="1.95"/>
<circle cx="234.58" cy="312.59" r="1.95"/>
<circle cx="236.76" cy="305.48" r="1.95"/>
<circle cx="238.94" cy="303.10" r="1.95"/>
<circle cx="241.13" cy="318.73" r="1.95"/>
<circle cx="243.31" cy="310.29" r="1.95"/>
<circle cx="245.49" cy="323.25" r="1.95"/>
<circle cx="247.67" cy="311.75" r="1.95"/>
<circle cx="249.85" cy="315.27" r="1.95"/>
<circle cx="252.04" cy="301.76" r="1.95"/>
<circle cx="254.22" cy="294.37" r="1.95"/>
<circle cx="256.40" cy="309.66" r="1.95"/>
</g>
<rect x="28.50" y="206.50" width="240.30" height="134.20" fill="none" stroke="#000" stroke-width="0.55"/>
<line x1="26.30" y1="331.40" x2="28.50" y2="331.40" stroke="#000" stroke-width="0.55"/>
<text transform="translate(23.40 333.67) matrix(1 .0005 0 1 0 0)" font-size="6.3" text-anchor="end">−0.05</text>
<line x1="26.30" y1="310.50" x2="28.50" y2="310.50" stroke="#000" stroke-width="0.55"/>
<text transform="translate(23.40 312.77) matrix(1 .0005 0 1 0 0)" font-size="6.3" text-anchor="end">0.00</text>
<line x1="26.30" y1="289.60" x2="28.50" y2="289.60" stroke="#000" stroke-width="0.55"/>
<text transform="translate(23.40 291.87) matrix(1 .0005 0 1 0 0)" font-size="6.3" text-anchor="end">0.05</text>
<line x1="26.30" y1="268.70" x2="28.50" y2="268.70" stroke="#000" stroke-width="0.55"/>
<text transform="translate(23.40 270.97) matrix(1 .0005 0 1 0 0)" font-size="6.3" text-anchor="end">0.10</text>
<line x1="26.30" y1="247.80" x2="28.50" y2="247.80" stroke="#000" stroke-width="0.55"/>
<text transform="translate(23.40 250.07) matrix(1 .0005 0 1 0 0)" font-size="6.3" text-anchor="end">0.15</text>
<line x1="26.30" y1="226.90" x2="28.50" y2="226.90" stroke="#000" stroke-width="0.55"/>
<text transform="translate(23.40 229.17) matrix(1 .0005 0 1 0 0)" font-size="6.3" text-anchor="end">0.20</text>
<line x1="38.20" y1="340.70" x2="38.20" y2="342.90" stroke="#000" stroke-width="0.55"/>
<text transform="translate(38.20 350.69) matrix(1 .0005 0 1 0 0)" font-size="6.3" text-anchor="middle">0</text>
<line x1="81.84" y1="340.70" x2="81.84" y2="342.90" stroke="#000" stroke-width="0.55"/>
<text transform="translate(81.84 350.69) matrix(1 .0005 0 1 0 0)" font-size="6.3" text-anchor="middle">20</text>
<line x1="125.48" y1="340.70" x2="125.48" y2="342.90" stroke="#000" stroke-width="0.55"/>
<text transform="translate(125.48 350.69) matrix(1 .0005 0 1 0 0)" font-size="6.3" text-anchor="middle">40</text>
<line x1="169.12" y1="340.70" x2="169.12" y2="342.90" stroke="#000" stroke-width="0.55"/>
<text transform="translate(169.12 350.69) matrix(1 .0005 0 1 0 0)" font-size="6.3" text-anchor="middle">60</text>
<line x1="212.76" y1="340.70" x2="212.76" y2="342.90" stroke="#000" stroke-width="0.55"/>
<text transform="translate(212.76 350.69) matrix(1 .0005 0 1 0 0)" font-size="6.3" text-anchor="middle">80</text>
<line x1="256.40" y1="340.70" x2="256.40" y2="342.90" stroke="#000" stroke-width="0.55"/>
<text transform="translate(256.40 350.69) matrix(1 .0005 0 1 0 0)" font-size="6.3" text-anchor="middle">100</text>
<text transform="translate(148.65 359.00) matrix(1 .0005 0 1 0 0)" font-size="6.3" text-anchor="middle">Lag</text>
<text transform="translate(148.65 201.70) matrix(1 .0005 0 1 0 0)" font-size="7.7" text-anchor="middle">Autocorrelation</text>
<polygon points="314.29,289.23 317.56,289.23 319.75,289.23 321.93,289.23 324.11,289.23 326.29,289.23 328.47,289.23 330.66,289.23 332.84,289.23 335.02,289.23 337.20,289.23 339.38,289.23 341.57,289.23 343.75,289.23 345.93,289.23 348.11,289.23 350.29,289.23 352.48,289.23 354.66,289.23 356.84,289.23 359.02,289.23 361.20,289.23 363.39,289.23 365.57,289.23 367.75,289.23 369.93,289.23 372.11,289.23 374.30,289.23 376.48,289.23 378.66,289.23 380.84,289.23 383.02,289.23 385.21,289.23 387.39,289.23 389.57,289.23 391.75,289.23 393.93,289.23 396.12,289.23 398.30,289.23 400.48,289.23 402.66,289.23 404.84,289.23 407.03,289.23 409.21,289.23 411.39,289.23 413.57,289.23 415.75,289.23 417.94,289.23 420.12,289.23 422.30,289.23 424.48,289.23 426.66,289.23 428.85,289.23 431.03,289.23 433.21,289.23 435.39,289.23 437.57,289.23 439.76,289.23 441.94,289.23 444.12,289.23 446.30,289.23 448.48,289.23 450.67,289.23 452.85,289.23 455.03,289.23 457.21,289.23 459.39,289.23 461.58,289.23 463.76,289.23 465.94,289.23 468.12,289.23 470.30,289.23 472.49,289.23 474.67,289.23 476.85,289.23 479.03,289.23 481.21,289.23 483.40,289.23 485.58,289.23 487.76,289.23 489.94,289.23 492.12,289.23 494.31,289.23 496.49,289.23 498.67,289.23 500.85,289.23 503.03,289.23 505.22,289.23 507.40,289.23 509.58,289.23 511.76,289.23 513.94,289.23 516.13,289.23 518.31,289.23 520.49,289.23 522.67,289.23 524.85,289.23 527.04,289.23 529.22,289.23 532.49,289.23 532.49,321.97 529.22,321.97 527.04,321.97 524.85,321.97 522.67,321.97 520.49,321.97 518.31,321.97 516.13,321.97 513.94,321.97 511.76,321.97 509.58,321.97 507.40,321.97 505.22,321.97 503.03,321.97 500.85,321.97 498.67,321.97 496.49,321.97 494.31,321.97 492.12,321.97 489.94,321.97 487.76,321.97 485.58,321.97 483.40,321.97 481.21,321.97 479.03,321.97 476.85,321.97 474.67,321.97 472.49,321.97 470.30,321.97 468.12,321.97 465.94,321.97 463.76,321.97 461.58,321.97 459.39,321.97 457.21,321.97 455.03,321.97 452.85,321.97 450.67,321.97 448.48,321.97 446.30,321.97 444.12,321.97 441.94,321.97 439.76,321.97 437.57,321.97 435.39,321.97 433.21,321.97 431.03,321.97 428.85,321.97 426.66,321.97 424.48,321.97 422.30,321.97 420.12,321.97 417.94,321.97 415.75,321.97 413.57,321.97 411.39,321.97 409.21,321.97 407.03,321.97 404.84,321.97 402.66,321.97 400.48,321.97 398.30,321.97 396.12,321.97 393.93,321.97 391.75,321.97 389.57,321.97 387.39,321.97 385.21,321.97 383.02,321.97 380.84,321.97 378.66,321.97 376.48,321.97 374.30,321.97 372.11,321.97 369.93,321.97 367.75,321.97 365.57,321.97 363.39,321.97 361.20,321.97 359.02,321.97 356.84,321.97 354.66,321.97 352.48,321.97 350.29,321.97 348.11,321.97 345.93,321.97 343.75,321.97 341.57,321.97 339.38,321.97 337.20,321.97 335.02,321.97 332.84,321.97 330.66,321.97 328.47,321.97 326.29,321.97 324.11,321.97 321.93,321.97 319.75,321.97 317.56,321.97 314.29,321.97" fill="#1f77b4" fill-opacity="0.25"/>
<path d="M315.38 305.60V212.64M317.56 305.60V334.60M319.75 305.60V293.81M321.93 305.60V297.24M324.11 305.60V295.48M326.29 305.60V291.34M328.47 305.60V313.41M330.66 305.60V319.86M332.84 305.60V308.79M335.02 305.60V282.54M337.20 305.60V310.90M339.38 305.60V303.21M341.57 305.60V303.21M343.75 305.60V300.42M345.93 305.60V301.22M348.11 305.60V307.19M350.29 305.60V300.42M352.48 305.60V285.88M354.66 305.60V302.41M356.84 305.60V294.65M359.02 305.60V322.85M361.20 305.60V314.20M363.39 305.60V300.02M365.57 305.60V323.68M367.75 305.60V308.39M369.93 305.60V286.96M372.11 305.60V306.16M374.30 305.60V309.50M376.48 305.60V329.50M378.66 305.60V305.60M380.84 305.60V305.20M383.02 305.60V302.02M385.21 305.60V295.64M387.39 305.60V314.84M389.57 305.60V303.05M391.75 305.60V317.95M393.93 305.60V285.17M396.12 305.60V312.17M398.30 305.60V300.74M400.48 305.60V294.73M402.66 305.60V304.33M404.84 305.60V285.17M407.03 305.60V296.72M409.21 305.60V303.77M411.39 305.60V308.79M413.57 305.60V298.83M415.75 305.60V329.82M417.94 305.60V302.13M420.12 305.60V317.95M422.30 305.60V311.89M424.48 305.60V305.80M426.66 305.60V311.73M428.85 305.60V306.60M431.03 305.60V306.28M433.21 305.60V302.13M435.39 305.60V309.18M437.57 305.60V307.59M439.76 305.60V290.19M441.94 305.60V297.63M444.12 305.60V309.58M446.30 305.60V313.17M448.48 305.60V309.58M450.67 305.60V294.17M452.85 305.60V298.03M455.03 305.60V299.63M457.21 305.60V304.60M459.39 305.60V302.13M461.58 305.60V311.73M463.76 305.60V297.63M465.94 305.60V291.34M468.12 305.60V308.99M470.30 305.60V298.43M472.49 305.60V308.99M474.67 305.60V295.48M476.85 305.60V312.57M479.03 305.60V313.17M481.21 305.60V307.19M483.40 305.60V306.28M485.58 305.60V302.61M487.76 305.60V294.17M489.94 305.60V317.03M492.12 305.60V290.46M494.31 305.60V304.01M496.49 305.60V288.35M498.67 305.60V313.73M500.85 305.60V300.02M503.03 305.60V297.24M505.22 305.60V317.95M507.40 305.60V307.19M509.58 305.60V309.18M511.76 305.60V294.17M513.94 305.60V299.63M516.13 305.60V312.77M518.31 305.60V296.32M520.49 305.60V320.54M522.67 305.60V302.13M524.85 305.60V317.95M527.04 305.60V293.01M529.22 305.60V288.35M531.40 305.60V316.19" stroke="#1f77b4" stroke-width="1.1" fill="none"/>
<line x1="302.9" y1="305.60" x2="543.6" y2="305.60" stroke="#1f77b4" stroke-width="0.95"/>
<g fill="#1f77b4">
<circle cx="315.38" cy="212.64" r="1.95"/>
<circle cx="317.56" cy="334.60" r="1.95"/>
<circle cx="319.75" cy="293.81" r="1.95"/>
<circle cx="321.93" cy="297.24" r="1.95"/>
<circle cx="324.11" cy="295.48" r="1.95"/>
<circle cx="326.29" cy="291.34" r="1.95"/>
<circle cx="328.47" cy="313.41" r="1.95"/>
<circle cx="330.66" cy="319.86" r="1.95"/>
<circle cx="332.84" cy="308.79" r="1.95"/>
<circle cx="335.02" cy="282.54" r="1.95"/>
<circle cx="337.20" cy="310.90" r="1.95"/>
<circle cx="339.38" cy="303.21" r="1.95"/>
<circle cx="341.57" cy="303.21" r="1.95"/>
<circle cx="343.75" cy="300.42" r="1.95"/>
<circle cx="345.93" cy="301.22" r="1.95"/>
<circle cx="348.11" cy="307.19" r="1.95"/>
<circle cx="350.29" cy="300.42" r="1.95"/>
<circle cx="352.48" cy="285.88" r="1.95"/>
<circle cx="354.66" cy="302.41" r="1.95"/>
<circle cx="356.84" cy="294.65" r="1.95"/>
<circle cx="359.02" cy="322.85" r="1.95"/>
<circle cx="361.20" cy="314.20" r="1.95"/>
<circle cx="363.39" cy="300.02" r="1.95"/>
<circle cx="365.57" cy="323.68" r="1.95"/>
<circle cx="367.75" cy="308.39" r="1.95"/>
<circle cx="369.93" cy="286.96" r="1.95"/>
<circle cx="372.11" cy="306.16" r="1.95"/>
<circle cx="374.30" cy="309.50" r="1.95"/>
<circle cx="376.48" cy="329.50" r="1.95"/>
<circle cx="378.66" cy="305.60" r="1.95"/>
<circle cx="380.84" cy="305.20" r="1.95"/>
<circle cx="383.02" cy="302.02" r="1.95"/>
<circle cx="385.21" cy="295.64" r="1.95"/>
<circle cx="387.39" cy="314.84" r="1.95"/>
<circle cx="389.57" cy="303.05" r="1.95"/>
<circle cx="391.75" cy="317.95" r="1.95"/>
<circle cx="393.93" cy="285.17" r="1.95"/>
<circle cx="396.12" cy="312.17" r="1.95"/>
<circle cx="398.30" cy="300.74" r="1.95"/>
<circle cx="400.48" cy="294.73" r="1.95"/>
<circle cx="402.66" cy="304.33" r="1.95"/>
<circle cx="404.84" cy="285.17" r="1.95"/>
<circle cx="407.03" cy="296.72" r="1.95"/>
<circle cx="409.21" cy="303.77" r="1.95"/>
<circle cx="411.39" cy="308.79" r="1.95"/>
<circle cx="413.57" cy="298.83" r="1.95"/>
<circle cx="415.75" cy="329.82" r="1.95"/>
<circle cx="417.94" cy="302.13" r="1.95"/>
<circle cx="420.12" cy="317.95" r="1.95"/>
<circle cx="422.30" cy="311.89" r="1.95"/>
<circle cx="424.48" cy="305.80" r="1.95"/>
<circle cx="426.66" cy="311.73" r="1.95"/>
<circle cx="428.85" cy="306.60" r="1.95"/>
<circle cx="431.03" cy="306.28" r="1.95"/>
<circle cx="433.21" cy="302.13" r="1.95"/>
<circle cx="435.39" cy="309.18" r="1.95"/>
<circle cx="437.57" cy="307.59" r="1.95"/>
<circle cx="439.76" cy="290.19" r="1.95"/>
<circle cx="441.94" cy="297.63" r="1.95"/>
<circle cx="444.12" cy="309.58" r="1.95"/>
<circle cx="446.30" cy="313.17" r="1.95"/>
<circle cx="448.48" cy="309.58" r="1.95"/>
<circle cx="450.67" cy="294.17" r="1.95"/>
<circle cx="452.85" cy="298.03" r="1.95"/>
<circle cx="455.03" cy="299.63" r="1.95"/>
<circle cx="457.21" cy="304.60" r="1.95"/>
<circle cx="459.39" cy="302.13" r="1.95"/>
<circle cx="461.58" cy="311.73" r="1.95"/>
<circle cx="463.76" cy="297.63" r="1.95"/>
<circle cx="465.94" cy="291.34" r="1.95"/>
<circle cx="468.12" cy="308.99" r="1.95"/>
<circle cx="470.30" cy="298.43" r="1.95"/>
<circle cx="472.49" cy="308.99" r="1.95"/>
<circle cx="474.67" cy="295.48" r="1.95"/>
<circle cx="476.85" cy="312.57" r="1.95"/>
<circle cx="479.03" cy="313.17" r="1.95"/>
<circle cx="481.21" cy="307.19" r="1.95"/>
<circle cx="483.40" cy="306.28" r="1.95"/>
<circle cx="485.58" cy="302.61" r="1.95"/>
<circle cx="487.76" cy="294.17" r="1.95"/>
<circle cx="489.94" cy="317.03" r="1.95"/>
<circle cx="492.12" cy="290.46" r="1.95"/>
<circle cx="494.31" cy="304.01" r="1.95"/>
<circle cx="496.49" cy="288.35" r="1.95"/>
<circle cx="498.67" cy="313.73" r="1.95"/>
<circle cx="500.85" cy="300.02" r="1.95"/>
<circle cx="503.03" cy="297.24" r="1.95"/>
<circle cx="505.22" cy="317.95" r="1.95"/>
<circle cx="507.40" cy="307.19" r="1.95"/>
<circle cx="509.58" cy="309.18" r="1.95"/>
<circle cx="511.76" cy="294.17" r="1.95"/>
<circle cx="513.94" cy="299.63" r="1.95"/>
<circle cx="516.13" cy="312.77" r="1.95"/>
<circle cx="518.31" cy="296.32" r="1.95"/>
<circle cx="520.49" cy="320.54" r="1.95"/>
<circle cx="522.67" cy="302.13" r="1.95"/>
<circle cx="524.85" cy="317.95" r="1.95"/>
<circle cx="527.04" cy="293.01" r="1.95"/>
<circle cx="529.22" cy="288.35" r="1.95"/>
<circle cx="531.40" cy="316.19" r="1.95"/>
</g>
<rect x="302.90" y="206.50" width="240.70" height="134.20" fill="none" stroke="#000" stroke-width="0.55"/>
<line x1="300.70" y1="325.52" x2="302.90" y2="325.52" stroke="#000" stroke-width="0.55"/>
<text transform="translate(297.80 327.78) matrix(1 .0005 0 1 0 0)" font-size="6.3" text-anchor="end">−0.05</text>
<line x1="300.70" y1="305.60" x2="302.90" y2="305.60" stroke="#000" stroke-width="0.55"/>
<text transform="translate(297.80 307.87) matrix(1 .0005 0 1 0 0)" font-size="6.3" text-anchor="end">0.00</text>
<line x1="300.70" y1="285.69" x2="302.90" y2="285.69" stroke="#000" stroke-width="0.55"/>
<text transform="translate(297.80 287.95) matrix(1 .0005 0 1 0 0)" font-size="6.3" text-anchor="end">0.05</text>
<line x1="300.70" y1="265.77" x2="302.90" y2="265.77" stroke="#000" stroke-width="0.55"/>
<text transform="translate(297.80 268.04) matrix(1 .0005 0 1 0 0)" font-size="6.3" text-anchor="end">0.10</text>
<line x1="300.70" y1="245.86" x2="302.90" y2="245.86" stroke="#000" stroke-width="0.55"/>
<text transform="translate(297.80 248.12) matrix(1 .0005 0 1 0 0)" font-size="6.3" text-anchor="end">0.15</text>
<line x1="300.70" y1="225.94" x2="302.90" y2="225.94" stroke="#000" stroke-width="0.55"/>
<text transform="translate(297.80 228.21) matrix(1 .0005 0 1 0 0)" font-size="6.3" text-anchor="end">0.20</text>
<line x1="313.20" y1="340.70" x2="313.20" y2="342.90" stroke="#000" stroke-width="0.55"/>
<text transform="translate(313.20 350.69) matrix(1 .0005 0 1 0 0)" font-size="6.3" text-anchor="middle">0</text>
<line x1="356.84" y1="340.70" x2="356.84" y2="342.90" stroke="#000" stroke-width="0.55"/>
<text transform="translate(356.84 350.69) matrix(1 .0005 0 1 0 0)" font-size="6.3" text-anchor="middle">20</text>
<line x1="400.48" y1="340.70" x2="400.48" y2="342.90" stroke="#000" stroke-width="0.55"/>
<text transform="translate(400.48 350.69) matrix(1 .0005 0 1 0 0)" font-size="6.3" text-anchor="middle">40</text>
<line x1="444.12" y1="340.70" x2="444.12" y2="342.90" stroke="#000" stroke-width="0.55"/>
<text transform="translate(444.12 350.69) matrix(1 .0005 0 1 0 0)" font-size="6.3" text-anchor="middle">60</text>
<line x1="487.76" y1="340.70" x2="487.76" y2="342.90" stroke="#000" stroke-width="0.55"/>
<text transform="translate(487.76 350.69) matrix(1 .0005 0 1 0 0)" font-size="6.3" text-anchor="middle">80</text>
<line x1="531.40" y1="340.70" x2="531.40" y2="342.90" stroke="#000" stroke-width="0.55"/>
<text transform="translate(531.40 350.69) matrix(1 .0005 0 1 0 0)" font-size="6.3" text-anchor="middle">100</text>
<text transform="translate(423.25 359.00) matrix(1 .0005 0 1 0 0)" font-size="6.3" text-anchor="middle">Lag</text>
<text transform="translate(423.25 201.70) matrix(1 .0005 0 1 0 0)" font-size="7.7" text-anchor="middle">Partial Autocorrelation</text>
</svg>
</body></html>
